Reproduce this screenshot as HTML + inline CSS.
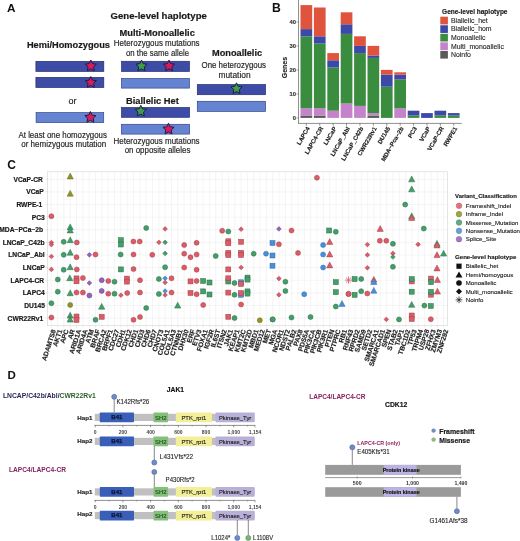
<!DOCTYPE html>
<html><head><meta charset="utf-8"><style>
html,body{margin:0;padding:0;background:#fff;}
svg{display:block;font-family:'Liberation Sans', Arial, sans-serif;}
</style></head><body>
<svg width="520" height="541" viewBox="0 0 520 541">
<rect width="520" height="541" fill="#fff"/>
<text x="7.1" y="11.9" font-size="11.8" font-weight="bold" text-anchor="start" fill="#111" >A</text>
<text x="110.6" y="18.75" font-size="9.5" font-weight="bold" text-anchor="start" fill="#1a1a1a" textLength="96.2" lengthAdjust="spacingAndGlyphs" stroke="#1a1a1a" stroke-width="0.2" >Gene-level haplotype</text>
<text x="26.9" y="47.5" font-size="9.9" font-weight="bold" text-anchor="start" fill="#1a1a1a" textLength="83.1" lengthAdjust="spacingAndGlyphs" stroke="#1a1a1a" stroke-width="0.2" >Hemi/Homozygous</text>
<text x="119.5" y="36.2" font-size="9.3" font-weight="bold" text-anchor="start" fill="#1a1a1a" textLength="75.3" lengthAdjust="spacingAndGlyphs" stroke="#1a1a1a" stroke-width="0.2" >Multi-Monoallelic</text>
<text x="113.8" y="45.5" font-size="9.0" text-anchor="start" fill="#262626" textLength="85.8" lengthAdjust="spacingAndGlyphs" stroke="#262626" stroke-width="0.18" >Heterozygous mutations</text>
<text x="125.9" y="55.5" font-size="9.0" text-anchor="start" fill="#262626" textLength="63.3" lengthAdjust="spacingAndGlyphs" stroke="#262626" stroke-width="0.18" >on the same allele</text>
<text x="212" y="56.3" font-size="9.3" font-weight="bold" text-anchor="start" fill="#1a1a1a" textLength="50.1" lengthAdjust="spacingAndGlyphs" stroke="#1a1a1a" stroke-width="0.2" >Monoallelic</text>
<text x="201.5" y="68.1" font-size="9.0" text-anchor="start" fill="#262626" textLength="64.5" lengthAdjust="spacingAndGlyphs" stroke="#262626" stroke-width="0.18" >One heterozygous</text>
<text x="218.4" y="77.5" font-size="9.0" text-anchor="start" fill="#262626" textLength="32.2" lengthAdjust="spacingAndGlyphs" stroke="#262626" stroke-width="0.18" >mutation</text>
<text x="68.5" y="103.7" font-size="9.0" text-anchor="start" fill="#262626" textLength="8" lengthAdjust="spacingAndGlyphs" stroke="#262626" stroke-width="0.18" >or</text>
<text x="18.5" y="137.7" font-size="9.0" text-anchor="start" fill="#262626" textLength="88.4" lengthAdjust="spacingAndGlyphs" stroke="#262626" stroke-width="0.18" >At least one homozygous</text>
<text x="21.2" y="146.5" font-size="9.0" text-anchor="start" fill="#262626" textLength="85.1" lengthAdjust="spacingAndGlyphs" stroke="#262626" stroke-width="0.18" >or hemizygous mutation</text>
<text x="125.9" y="103.8" font-size="9.3" font-weight="bold" text-anchor="start" fill="#1a1a1a" textLength="53" lengthAdjust="spacingAndGlyphs" stroke="#1a1a1a" stroke-width="0.2" >Biallelic Het</text>
<text x="113.5" y="143.9" font-size="9.0" text-anchor="start" fill="#262626" textLength="86.1" lengthAdjust="spacingAndGlyphs" stroke="#262626" stroke-width="0.18" >Heterozygous mutations</text>
<text x="124.7" y="153.4" font-size="9.0" text-anchor="start" fill="#262626" textLength="65.7" lengthAdjust="spacingAndGlyphs" stroke="#262626" stroke-width="0.18" >on opposite alleles</text>
<rect x="35.90" y="61.40" width="67.90" height="10.00" fill="#3d4ca6" stroke="#262d6e" stroke-width="0.7" />
<rect x="35.90" y="77.40" width="67.90" height="10.10" fill="#3d4ca6" stroke="#262d6e" stroke-width="0.7" />
<rect x="36.10" y="112.60" width="67.60" height="10.00" fill="#6484d2" stroke="#38428a" stroke-width="0.7" />
<rect x="121.60" y="61.30" width="67.80" height="10.10" fill="#3d4ca6" stroke="#262d6e" stroke-width="0.7" />
<rect x="121.50" y="78.50" width="67.90" height="9.60" fill="#6484d2" stroke="#38428a" stroke-width="0.7" />
<rect x="121.50" y="107.50" width="68.10" height="9.80" fill="#3d4ca6" stroke="#262d6e" stroke-width="0.7" />
<rect x="121.50" y="124.30" width="68.10" height="9.80" fill="#6484d2" stroke="#38428a" stroke-width="0.7" />
<rect x="197.30" y="84.50" width="68.20" height="10.20" fill="#3d4ca6" stroke="#262d6e" stroke-width="0.7" />
<rect x="197.30" y="101.30" width="68.20" height="10.10" fill="#6484d2" stroke="#38428a" stroke-width="0.7" />
<polygon points="90.80,60.10 92.50,63.65 96.41,64.18 93.56,66.90 94.27,70.77 90.80,68.90 87.33,70.77 88.04,66.90 85.19,64.18 89.10,63.65" fill="#d81b60" stroke="#1f1d45" stroke-width="1.0" stroke-linejoin="round"/>
<polygon points="90.80,76.60 92.50,80.15 96.41,80.68 93.56,83.40 94.27,87.27 90.80,85.40 87.33,87.27 88.04,83.40 85.19,80.68 89.10,80.15" fill="#d81b60" stroke="#1f1d45" stroke-width="1.0" stroke-linejoin="round"/>
<polygon points="90.40,111.50 92.10,115.05 96.01,115.58 93.16,118.30 93.87,122.17 90.40,120.30 86.93,122.17 87.64,118.30 84.79,115.58 88.70,115.05" fill="#d81b60" stroke="#1f1d45" stroke-width="1.0" stroke-linejoin="round"/>
<polygon points="141.50,60.10 143.20,63.65 147.11,64.18 144.26,66.90 144.97,70.77 141.50,68.90 138.03,70.77 138.74,66.90 135.89,64.18 139.80,63.65" fill="#3e9e48" stroke="#1f1d45" stroke-width="1.0" stroke-linejoin="round"/>
<polygon points="169.00,60.10 170.70,63.65 174.61,64.18 171.76,66.90 172.47,70.77 169.00,68.90 165.53,70.77 166.24,66.90 163.39,64.18 167.30,63.65" fill="#d81b60" stroke="#1f1d45" stroke-width="1.0" stroke-linejoin="round"/>
<polygon points="140.80,105.30 142.50,108.85 146.41,109.38 143.56,112.10 144.27,115.97 140.80,114.10 137.33,115.97 138.04,112.10 135.19,109.38 139.10,108.85" fill="#3e9e48" stroke="#1f1d45" stroke-width="1.0" stroke-linejoin="round"/>
<polygon points="168.50,123.20 170.20,126.75 174.11,127.28 171.26,130.00 171.97,133.87 168.50,132.00 165.03,133.87 165.74,130.00 162.89,127.28 166.80,126.75" fill="#d81b60" stroke="#1f1d45" stroke-width="1.0" stroke-linejoin="round"/>
<polygon points="236.50,82.80 238.20,86.35 242.11,86.88 239.26,89.60 239.97,93.47 236.50,91.60 233.03,93.47 233.74,89.60 230.89,86.88 234.80,86.35" fill="#3e9e48" stroke="#1f1d45" stroke-width="1.0" stroke-linejoin="round"/>
<text x="272.0" y="12.1" font-size="12.2" font-weight="bold" text-anchor="start" fill="#111" >B</text>
<line x1="298.50" y1="0.00" x2="298.50" y2="123.60" stroke="#444" stroke-width="0.6"/>
<line x1="298.20" y1="123.40" x2="461.80" y2="123.40" stroke="#444" stroke-width="0.6"/>
<line x1="296.40" y1="117.90" x2="298.70" y2="117.90" stroke="#555" stroke-width="0.5"/>
<text x="295.9" y="120.10000000000001" font-size="5.8" font-weight="bold" text-anchor="end" fill="#333" stroke="#333" stroke-width="0.15" >0</text>
<line x1="296.40" y1="93.90" x2="298.70" y2="93.90" stroke="#555" stroke-width="0.5"/>
<text x="295.9" y="96.10000000000001" font-size="5.8" font-weight="bold" text-anchor="end" fill="#333" stroke="#333" stroke-width="0.15" >10</text>
<line x1="296.40" y1="69.90" x2="298.70" y2="69.90" stroke="#555" stroke-width="0.5"/>
<text x="295.9" y="72.10000000000001" font-size="5.8" font-weight="bold" text-anchor="end" fill="#333" stroke="#333" stroke-width="0.15" >20</text>
<line x1="296.40" y1="45.90" x2="298.70" y2="45.90" stroke="#555" stroke-width="0.5"/>
<text x="295.9" y="48.10000000000001" font-size="5.8" font-weight="bold" text-anchor="end" fill="#333" stroke="#333" stroke-width="0.15" >30</text>
<line x1="296.40" y1="21.90" x2="298.70" y2="21.90" stroke="#555" stroke-width="0.5"/>
<text x="295.9" y="24.100000000000005" font-size="5.8" font-weight="bold" text-anchor="end" fill="#333" stroke="#333" stroke-width="0.15" >40</text>
<text transform="translate(287.2,67.6) rotate(-90)" font-size="7" font-weight="bold" text-anchor="middle" fill="#1a1a1a" stroke="#1a1a1a" stroke-width="0.12">Genes</text>
<rect x="300.50" y="115.50" width="11.70" height="2.40" fill="#5a5a5a" />
<rect x="300.50" y="108.30" width="11.70" height="7.20" fill="#c583cb" />
<rect x="300.50" y="36.30" width="11.70" height="72.00" fill="#3a8c3f" />
<rect x="300.50" y="29.10" width="11.70" height="7.20" fill="#3b49a8" />
<rect x="300.50" y="5.10" width="11.70" height="24.00" fill="#e0533c" />
<line x1="306.35" y1="123.40" x2="306.35" y2="125.80" stroke="#333" stroke-width="0.5"/>
<text transform="translate(309.95,128.3) rotate(-60)" font-size="6.05" font-weight="bold" text-anchor="end" fill="#1a1a1a" stroke="#1a1a1a" stroke-width="0.15">LAPC4</text>
<rect x="313.90" y="115.50" width="11.70" height="2.40" fill="#5a5a5a" />
<rect x="313.90" y="108.30" width="11.70" height="7.20" fill="#c583cb" />
<rect x="313.90" y="43.50" width="11.70" height="64.80" fill="#3a8c3f" />
<rect x="313.90" y="36.30" width="11.70" height="7.20" fill="#3b49a8" />
<rect x="313.90" y="7.50" width="11.70" height="28.80" fill="#e0533c" />
<line x1="319.75" y1="123.40" x2="319.75" y2="125.80" stroke="#333" stroke-width="0.5"/>
<text transform="translate(323.35,128.3) rotate(-60)" font-size="6.05" font-weight="bold" text-anchor="end" fill="#1a1a1a" stroke="#1a1a1a" stroke-width="0.15">LAPC4-CR</text>
<rect x="327.30" y="110.70" width="11.70" height="7.20" fill="#c583cb" />
<rect x="327.30" y="67.50" width="11.70" height="43.20" fill="#3a8c3f" />
<rect x="327.30" y="60.30" width="11.70" height="7.20" fill="#3b49a8" />
<rect x="327.30" y="53.10" width="11.70" height="7.20" fill="#e0533c" />
<line x1="333.15" y1="123.40" x2="333.15" y2="125.80" stroke="#333" stroke-width="0.5"/>
<text transform="translate(336.75,128.3) rotate(-60)" font-size="6.05" font-weight="bold" text-anchor="end" fill="#1a1a1a" stroke="#1a1a1a" stroke-width="0.15">LNCaP</text>
<rect x="340.70" y="103.50" width="11.70" height="14.40" fill="#c583cb" />
<rect x="340.70" y="33.90" width="11.70" height="69.60" fill="#3a8c3f" />
<rect x="340.70" y="24.30" width="11.70" height="9.60" fill="#3b49a8" />
<rect x="340.70" y="12.30" width="11.70" height="12.00" fill="#e0533c" />
<line x1="346.55" y1="123.40" x2="346.55" y2="125.80" stroke="#333" stroke-width="0.5"/>
<text transform="translate(350.15,128.3) rotate(-60)" font-size="6.05" font-weight="bold" text-anchor="end" fill="#1a1a1a" stroke="#1a1a1a" stroke-width="0.15">LNCaP_Abl</text>
<rect x="354.10" y="105.90" width="11.70" height="12.00" fill="#c583cb" />
<rect x="354.10" y="53.10" width="11.70" height="52.80" fill="#3a8c3f" />
<rect x="354.10" y="45.90" width="11.70" height="7.20" fill="#3b49a8" />
<rect x="354.10" y="36.30" width="11.70" height="9.60" fill="#e0533c" />
<line x1="359.95" y1="123.40" x2="359.95" y2="125.80" stroke="#333" stroke-width="0.5"/>
<text transform="translate(363.55,128.3) rotate(-60)" font-size="6.05" font-weight="bold" text-anchor="end" fill="#1a1a1a" stroke="#1a1a1a" stroke-width="0.15">LNCaP_C42b</text>
<rect x="367.50" y="115.50" width="11.70" height="2.40" fill="#5a5a5a" />
<rect x="367.50" y="113.10" width="11.70" height="2.40" fill="#c583cb" />
<rect x="367.50" y="57.90" width="11.70" height="55.20" fill="#3a8c3f" />
<rect x="367.50" y="55.50" width="11.70" height="2.40" fill="#3b49a8" />
<rect x="367.50" y="45.90" width="11.70" height="9.60" fill="#e0533c" />
<line x1="373.35" y1="123.40" x2="373.35" y2="125.80" stroke="#333" stroke-width="0.5"/>
<text transform="translate(376.95,128.3) rotate(-60)" font-size="6.05" font-weight="bold" text-anchor="end" fill="#1a1a1a" stroke="#1a1a1a" stroke-width="0.15">CWR22Rv1</text>
<rect x="380.90" y="86.70" width="11.70" height="31.20" fill="#3a8c3f" />
<rect x="380.90" y="74.70" width="11.70" height="12.00" fill="#3b49a8" />
<rect x="380.90" y="69.90" width="11.70" height="4.80" fill="#e0533c" />
<line x1="386.75" y1="123.40" x2="386.75" y2="125.80" stroke="#333" stroke-width="0.5"/>
<text transform="translate(390.35,128.3) rotate(-60)" font-size="6.05" font-weight="bold" text-anchor="end" fill="#1a1a1a" stroke="#1a1a1a" stroke-width="0.15">DU145</text>
<rect x="394.30" y="108.30" width="11.70" height="9.60" fill="#c583cb" />
<rect x="394.30" y="79.50" width="11.70" height="28.80" fill="#3a8c3f" />
<rect x="394.30" y="74.70" width="11.70" height="4.80" fill="#3b49a8" />
<rect x="394.30" y="72.30" width="11.70" height="2.40" fill="#e0533c" />
<line x1="400.15" y1="123.40" x2="400.15" y2="125.80" stroke="#333" stroke-width="0.5"/>
<text transform="translate(403.75,128.3) rotate(-60)" font-size="6.05" font-weight="bold" text-anchor="end" fill="#1a1a1a" stroke="#1a1a1a" stroke-width="0.15">MDA−Pca−2b</text>
<rect x="407.70" y="115.50" width="11.70" height="2.40" fill="#3a8c3f" />
<rect x="407.70" y="110.70" width="11.70" height="4.80" fill="#3b49a8" />
<line x1="413.55" y1="123.40" x2="413.55" y2="125.80" stroke="#333" stroke-width="0.5"/>
<text transform="translate(417.15,128.3) rotate(-60)" font-size="6.05" font-weight="bold" text-anchor="end" fill="#1a1a1a" stroke="#1a1a1a" stroke-width="0.15">PC3</text>
<rect x="421.10" y="113.10" width="11.70" height="4.80" fill="#3b49a8" />
<line x1="426.95" y1="123.40" x2="426.95" y2="125.80" stroke="#333" stroke-width="0.5"/>
<text transform="translate(430.55,128.3) rotate(-60)" font-size="6.05" font-weight="bold" text-anchor="end" fill="#1a1a1a" stroke="#1a1a1a" stroke-width="0.15">VCaP</text>
<rect x="434.50" y="115.50" width="11.70" height="2.40" fill="#3a8c3f" />
<rect x="434.50" y="110.70" width="11.70" height="4.80" fill="#3b49a8" />
<line x1="440.35" y1="123.40" x2="440.35" y2="125.80" stroke="#333" stroke-width="0.5"/>
<text transform="translate(443.95,128.3) rotate(-60)" font-size="6.05" font-weight="bold" text-anchor="end" fill="#1a1a1a" stroke="#1a1a1a" stroke-width="0.15">VCaP-CR</text>
<rect x="447.90" y="115.50" width="11.70" height="2.40" fill="#3a8c3f" />
<rect x="447.90" y="113.10" width="11.70" height="2.40" fill="#3b49a8" />
<line x1="453.75" y1="123.40" x2="453.75" y2="125.80" stroke="#333" stroke-width="0.5"/>
<text transform="translate(457.35,128.3) rotate(-60)" font-size="6.05" font-weight="bold" text-anchor="end" fill="#1a1a1a" stroke="#1a1a1a" stroke-width="0.15">RWPE1</text>
<text x="442.1" y="13.9" font-size="6.5" font-weight="bold" text-anchor="start" fill="#1a1a1a" stroke="#1a1a1a" stroke-width="0.15" >Gene-level haplotype</text>
<rect x="440.30" y="16.70" width="7.60" height="7.70" fill="#e0533c" />
<text x="451" y="22.9" font-size="6.9" text-anchor="start" fill="#1a1a1a" stroke="#1a1a1a" stroke-width="0.1" >Biallelic_het</text>
<rect x="440.30" y="25.25" width="7.60" height="7.70" fill="#3b49a8" />
<text x="451" y="31.45" font-size="6.9" text-anchor="start" fill="#1a1a1a" stroke="#1a1a1a" stroke-width="0.1" >Biallelic_hom</text>
<rect x="440.30" y="33.80" width="7.60" height="7.70" fill="#3a8c3f" />
<text x="451" y="40.0" font-size="6.9" text-anchor="start" fill="#1a1a1a" stroke="#1a1a1a" stroke-width="0.1" >Monoallelic</text>
<rect x="440.30" y="42.35" width="7.60" height="7.70" fill="#c583cb" />
<text x="451" y="48.550000000000004" font-size="6.9" text-anchor="start" fill="#1a1a1a" stroke="#1a1a1a" stroke-width="0.1" >Multi_monoallelic</text>
<rect x="440.30" y="50.90" width="7.60" height="7.70" fill="#5a5a5a" />
<text x="451" y="57.10000000000001" font-size="6.9" text-anchor="start" fill="#1a1a1a" stroke="#1a1a1a" stroke-width="0.1" >Noinfo</text>
<text x="7.2" y="168.6" font-size="12" font-weight="bold" text-anchor="start" fill="#111" >C</text>
<rect x="47.50" y="171.80" width="400.10" height="153.90" fill="#ffffff" stroke="#d4d4d4" stroke-width="0.6" />
<line x1="51.20" y1="171.80" x2="51.20" y2="325.70" stroke="#ebebeb" stroke-width="0.5"/>
<line x1="57.53" y1="171.80" x2="57.53" y2="325.70" stroke="#ebebeb" stroke-width="0.5"/>
<line x1="63.86" y1="171.80" x2="63.86" y2="325.70" stroke="#ebebeb" stroke-width="0.5"/>
<line x1="70.19" y1="171.80" x2="70.19" y2="325.70" stroke="#ebebeb" stroke-width="0.5"/>
<line x1="76.52" y1="171.80" x2="76.52" y2="325.70" stroke="#ebebeb" stroke-width="0.5"/>
<line x1="82.85" y1="171.80" x2="82.85" y2="325.70" stroke="#ebebeb" stroke-width="0.5"/>
<line x1="89.18" y1="171.80" x2="89.18" y2="325.70" stroke="#ebebeb" stroke-width="0.5"/>
<line x1="95.51" y1="171.80" x2="95.51" y2="325.70" stroke="#ebebeb" stroke-width="0.5"/>
<line x1="101.84" y1="171.80" x2="101.84" y2="325.70" stroke="#ebebeb" stroke-width="0.5"/>
<line x1="108.17" y1="171.80" x2="108.17" y2="325.70" stroke="#ebebeb" stroke-width="0.5"/>
<line x1="114.50" y1="171.80" x2="114.50" y2="325.70" stroke="#ebebeb" stroke-width="0.5"/>
<line x1="120.83" y1="171.80" x2="120.83" y2="325.70" stroke="#ebebeb" stroke-width="0.5"/>
<line x1="127.16" y1="171.80" x2="127.16" y2="325.70" stroke="#ebebeb" stroke-width="0.5"/>
<line x1="133.49" y1="171.80" x2="133.49" y2="325.70" stroke="#ebebeb" stroke-width="0.5"/>
<line x1="139.82" y1="171.80" x2="139.82" y2="325.70" stroke="#ebebeb" stroke-width="0.5"/>
<line x1="146.15" y1="171.80" x2="146.15" y2="325.70" stroke="#ebebeb" stroke-width="0.5"/>
<line x1="152.48" y1="171.80" x2="152.48" y2="325.70" stroke="#ebebeb" stroke-width="0.5"/>
<line x1="158.81" y1="171.80" x2="158.81" y2="325.70" stroke="#ebebeb" stroke-width="0.5"/>
<line x1="165.14" y1="171.80" x2="165.14" y2="325.70" stroke="#ebebeb" stroke-width="0.5"/>
<line x1="171.47" y1="171.80" x2="171.47" y2="325.70" stroke="#ebebeb" stroke-width="0.5"/>
<line x1="177.80" y1="171.80" x2="177.80" y2="325.70" stroke="#ebebeb" stroke-width="0.5"/>
<line x1="184.13" y1="171.80" x2="184.13" y2="325.70" stroke="#ebebeb" stroke-width="0.5"/>
<line x1="190.46" y1="171.80" x2="190.46" y2="325.70" stroke="#ebebeb" stroke-width="0.5"/>
<line x1="196.79" y1="171.80" x2="196.79" y2="325.70" stroke="#ebebeb" stroke-width="0.5"/>
<line x1="203.12" y1="171.80" x2="203.12" y2="325.70" stroke="#ebebeb" stroke-width="0.5"/>
<line x1="209.45" y1="171.80" x2="209.45" y2="325.70" stroke="#ebebeb" stroke-width="0.5"/>
<line x1="215.78" y1="171.80" x2="215.78" y2="325.70" stroke="#ebebeb" stroke-width="0.5"/>
<line x1="222.11" y1="171.80" x2="222.11" y2="325.70" stroke="#ebebeb" stroke-width="0.5"/>
<line x1="228.44" y1="171.80" x2="228.44" y2="325.70" stroke="#ebebeb" stroke-width="0.5"/>
<line x1="234.77" y1="171.80" x2="234.77" y2="325.70" stroke="#ebebeb" stroke-width="0.5"/>
<line x1="241.10" y1="171.80" x2="241.10" y2="325.70" stroke="#ebebeb" stroke-width="0.5"/>
<line x1="247.43" y1="171.80" x2="247.43" y2="325.70" stroke="#ebebeb" stroke-width="0.5"/>
<line x1="253.76" y1="171.80" x2="253.76" y2="325.70" stroke="#ebebeb" stroke-width="0.5"/>
<line x1="260.09" y1="171.80" x2="260.09" y2="325.70" stroke="#ebebeb" stroke-width="0.5"/>
<line x1="266.42" y1="171.80" x2="266.42" y2="325.70" stroke="#ebebeb" stroke-width="0.5"/>
<line x1="272.75" y1="171.80" x2="272.75" y2="325.70" stroke="#ebebeb" stroke-width="0.5"/>
<line x1="279.08" y1="171.80" x2="279.08" y2="325.70" stroke="#ebebeb" stroke-width="0.5"/>
<line x1="285.41" y1="171.80" x2="285.41" y2="325.70" stroke="#ebebeb" stroke-width="0.5"/>
<line x1="291.74" y1="171.80" x2="291.74" y2="325.70" stroke="#ebebeb" stroke-width="0.5"/>
<line x1="298.07" y1="171.80" x2="298.07" y2="325.70" stroke="#ebebeb" stroke-width="0.5"/>
<line x1="304.40" y1="171.80" x2="304.40" y2="325.70" stroke="#ebebeb" stroke-width="0.5"/>
<line x1="310.73" y1="171.80" x2="310.73" y2="325.70" stroke="#ebebeb" stroke-width="0.5"/>
<line x1="317.06" y1="171.80" x2="317.06" y2="325.70" stroke="#ebebeb" stroke-width="0.5"/>
<line x1="323.39" y1="171.80" x2="323.39" y2="325.70" stroke="#ebebeb" stroke-width="0.5"/>
<line x1="329.72" y1="171.80" x2="329.72" y2="325.70" stroke="#ebebeb" stroke-width="0.5"/>
<line x1="336.05" y1="171.80" x2="336.05" y2="325.70" stroke="#ebebeb" stroke-width="0.5"/>
<line x1="342.38" y1="171.80" x2="342.38" y2="325.70" stroke="#ebebeb" stroke-width="0.5"/>
<line x1="348.71" y1="171.80" x2="348.71" y2="325.70" stroke="#ebebeb" stroke-width="0.5"/>
<line x1="355.04" y1="171.80" x2="355.04" y2="325.70" stroke="#ebebeb" stroke-width="0.5"/>
<line x1="361.37" y1="171.80" x2="361.37" y2="325.70" stroke="#ebebeb" stroke-width="0.5"/>
<line x1="367.70" y1="171.80" x2="367.70" y2="325.70" stroke="#ebebeb" stroke-width="0.5"/>
<line x1="374.03" y1="171.80" x2="374.03" y2="325.70" stroke="#ebebeb" stroke-width="0.5"/>
<line x1="380.36" y1="171.80" x2="380.36" y2="325.70" stroke="#ebebeb" stroke-width="0.5"/>
<line x1="386.69" y1="171.80" x2="386.69" y2="325.70" stroke="#ebebeb" stroke-width="0.5"/>
<line x1="393.02" y1="171.80" x2="393.02" y2="325.70" stroke="#ebebeb" stroke-width="0.5"/>
<line x1="399.35" y1="171.80" x2="399.35" y2="325.70" stroke="#ebebeb" stroke-width="0.5"/>
<line x1="405.68" y1="171.80" x2="405.68" y2="325.70" stroke="#ebebeb" stroke-width="0.5"/>
<line x1="412.01" y1="171.80" x2="412.01" y2="325.70" stroke="#ebebeb" stroke-width="0.5"/>
<line x1="418.34" y1="171.80" x2="418.34" y2="325.70" stroke="#ebebeb" stroke-width="0.5"/>
<line x1="424.67" y1="171.80" x2="424.67" y2="325.70" stroke="#ebebeb" stroke-width="0.5"/>
<line x1="431.00" y1="171.80" x2="431.00" y2="325.70" stroke="#ebebeb" stroke-width="0.5"/>
<line x1="437.33" y1="171.80" x2="437.33" y2="325.70" stroke="#ebebeb" stroke-width="0.5"/>
<line x1="443.66" y1="171.80" x2="443.66" y2="325.70" stroke="#ebebeb" stroke-width="0.5"/>
<line x1="47.50" y1="179.30" x2="447.60" y2="179.30" stroke="#ebebeb" stroke-width="0.5"/>
<line x1="47.50" y1="191.92" x2="447.60" y2="191.92" stroke="#ebebeb" stroke-width="0.5"/>
<line x1="47.50" y1="204.54" x2="447.60" y2="204.54" stroke="#ebebeb" stroke-width="0.5"/>
<line x1="47.50" y1="217.16" x2="447.60" y2="217.16" stroke="#ebebeb" stroke-width="0.5"/>
<line x1="47.50" y1="229.78" x2="447.60" y2="229.78" stroke="#ebebeb" stroke-width="0.5"/>
<line x1="47.50" y1="242.40" x2="447.60" y2="242.40" stroke="#ebebeb" stroke-width="0.5"/>
<line x1="47.50" y1="255.02" x2="447.60" y2="255.02" stroke="#ebebeb" stroke-width="0.5"/>
<line x1="47.50" y1="267.64" x2="447.60" y2="267.64" stroke="#ebebeb" stroke-width="0.5"/>
<line x1="47.50" y1="280.26" x2="447.60" y2="280.26" stroke="#ebebeb" stroke-width="0.5"/>
<line x1="47.50" y1="292.88" x2="447.60" y2="292.88" stroke="#ebebeb" stroke-width="0.5"/>
<line x1="47.50" y1="305.50" x2="447.60" y2="305.50" stroke="#ebebeb" stroke-width="0.5"/>
<line x1="47.50" y1="318.12" x2="447.60" y2="318.12" stroke="#ebebeb" stroke-width="0.5"/>
<line x1="45.60" y1="179.30" x2="47.50" y2="179.30" stroke="#bbb" stroke-width="0.4"/>
<text x="42.8" y="181.70000000000002" font-size="6.7" font-weight="bold" text-anchor="end" fill="#1a1a1a" stroke="#1a1a1a" stroke-width="0.2" >VCaP-CR</text>
<line x1="45.60" y1="191.92" x2="47.50" y2="191.92" stroke="#bbb" stroke-width="0.4"/>
<text x="43.75" y="194.32000000000002" font-size="6.7" font-weight="bold" text-anchor="end" fill="#1a1a1a" stroke="#1a1a1a" stroke-width="0.2" >VCaP</text>
<line x1="45.60" y1="204.54" x2="47.50" y2="204.54" stroke="#bbb" stroke-width="0.4"/>
<text x="42.3" y="206.94000000000003" font-size="6.7" font-weight="bold" text-anchor="end" fill="#1a1a1a" stroke="#1a1a1a" stroke-width="0.2" >RWPE-1</text>
<line x1="45.60" y1="217.16" x2="47.50" y2="217.16" stroke="#bbb" stroke-width="0.4"/>
<text x="44.7" y="219.56000000000003" font-size="6.7" font-weight="bold" text-anchor="end" fill="#1a1a1a" stroke="#1a1a1a" stroke-width="0.2" >PC3</text>
<line x1="45.60" y1="229.78" x2="47.50" y2="229.78" stroke="#bbb" stroke-width="0.4"/>
<text x="43.1" y="232.18" font-size="6.7" font-weight="bold" text-anchor="end" fill="#1a1a1a" stroke="#1a1a1a" stroke-width="0.2" >MDA−PCa−2b</text>
<line x1="45.60" y1="242.40" x2="47.50" y2="242.40" stroke="#bbb" stroke-width="0.4"/>
<text x="44.7" y="244.8" font-size="6.7" font-weight="bold" text-anchor="end" fill="#1a1a1a" stroke="#1a1a1a" stroke-width="0.2" >LNCaP_C42b</text>
<line x1="45.60" y1="255.02" x2="47.50" y2="255.02" stroke="#bbb" stroke-width="0.4"/>
<text x="44.7" y="257.42" font-size="6.7" font-weight="bold" text-anchor="end" fill="#1a1a1a" stroke="#1a1a1a" stroke-width="0.2" >LNCaP_Abl</text>
<line x1="45.60" y1="267.64" x2="47.50" y2="267.64" stroke="#bbb" stroke-width="0.4"/>
<text x="44.7" y="270.03999999999996" font-size="6.7" font-weight="bold" text-anchor="end" fill="#1a1a1a" stroke="#1a1a1a" stroke-width="0.2" >LNCaP</text>
<line x1="45.60" y1="280.26" x2="47.50" y2="280.26" stroke="#bbb" stroke-width="0.4"/>
<text x="44.2" y="282.65999999999997" font-size="6.7" font-weight="bold" text-anchor="end" fill="#1a1a1a" stroke="#1a1a1a" stroke-width="0.2" >LAPC4-CR</text>
<line x1="45.60" y1="292.88" x2="47.50" y2="292.88" stroke="#bbb" stroke-width="0.4"/>
<text x="44.7" y="295.28" font-size="6.7" font-weight="bold" text-anchor="end" fill="#1a1a1a" stroke="#1a1a1a" stroke-width="0.2" >LAPC4</text>
<line x1="45.60" y1="305.50" x2="47.50" y2="305.50" stroke="#bbb" stroke-width="0.4"/>
<text x="45.0" y="307.9" font-size="6.7" font-weight="bold" text-anchor="end" fill="#1a1a1a" stroke="#1a1a1a" stroke-width="0.2" >DU145</text>
<line x1="45.60" y1="318.12" x2="47.50" y2="318.12" stroke="#bbb" stroke-width="0.4"/>
<text x="43.3" y="320.52" font-size="6.7" font-weight="bold" text-anchor="end" fill="#1a1a1a" stroke="#1a1a1a" stroke-width="0.2" >CWR22Rv1</text>
<line x1="51.20" y1="325.70" x2="51.20" y2="327.50" stroke="#ccc" stroke-width="0.4"/>
<text transform="translate(56.00,330.3) rotate(-72)" font-size="6.75" font-weight="bold" text-anchor="end" fill="#1a1a1a" stroke="#1a1a1a" stroke-width="0.15">ADAMTS8</text>
<line x1="57.53" y1="325.70" x2="57.53" y2="327.50" stroke="#ccc" stroke-width="0.4"/>
<text transform="translate(62.33,330.3) rotate(-72)" font-size="6.75" font-weight="bold" text-anchor="end" fill="#1a1a1a" stroke="#1a1a1a" stroke-width="0.15">AKT1</text>
<line x1="63.86" y1="325.70" x2="63.86" y2="327.50" stroke="#ccc" stroke-width="0.4"/>
<text transform="translate(68.66,330.3) rotate(-72)" font-size="6.75" font-weight="bold" text-anchor="end" fill="#1a1a1a" stroke="#1a1a1a" stroke-width="0.15">APC</text>
<line x1="70.19" y1="325.70" x2="70.19" y2="327.50" stroke="#ccc" stroke-width="0.4"/>
<text transform="translate(74.99,330.3) rotate(-72)" font-size="6.75" font-weight="bold" text-anchor="end" fill="#1a1a1a" stroke="#1a1a1a" stroke-width="0.15">AR</text>
<line x1="76.52" y1="325.70" x2="76.52" y2="327.50" stroke="#ccc" stroke-width="0.4"/>
<text transform="translate(81.32,330.3) rotate(-72)" font-size="6.75" font-weight="bold" text-anchor="end" fill="#1a1a1a" stroke="#1a1a1a" stroke-width="0.15">ARID1A</text>
<line x1="82.85" y1="325.70" x2="82.85" y2="327.50" stroke="#ccc" stroke-width="0.4"/>
<text transform="translate(87.65,330.3) rotate(-72)" font-size="6.75" font-weight="bold" text-anchor="end" fill="#1a1a1a" stroke="#1a1a1a" stroke-width="0.15">ARID4A</text>
<line x1="89.18" y1="325.70" x2="89.18" y2="327.50" stroke="#ccc" stroke-width="0.4"/>
<text transform="translate(93.98,330.3) rotate(-72)" font-size="6.75" font-weight="bold" text-anchor="end" fill="#1a1a1a" stroke="#1a1a1a" stroke-width="0.15">ATM</text>
<line x1="95.51" y1="325.70" x2="95.51" y2="327.50" stroke="#ccc" stroke-width="0.4"/>
<text transform="translate(100.31,330.3) rotate(-72)" font-size="6.75" font-weight="bold" text-anchor="end" fill="#1a1a1a" stroke="#1a1a1a" stroke-width="0.15">BRAF</text>
<line x1="101.84" y1="325.70" x2="101.84" y2="327.50" stroke="#ccc" stroke-width="0.4"/>
<text transform="translate(106.64,330.3) rotate(-72)" font-size="6.75" font-weight="bold" text-anchor="end" fill="#1a1a1a" stroke="#1a1a1a" stroke-width="0.15">BRCA2</text>
<line x1="108.17" y1="325.70" x2="108.17" y2="327.50" stroke="#ccc" stroke-width="0.4"/>
<text transform="translate(112.97,330.3) rotate(-72)" font-size="6.75" font-weight="bold" text-anchor="end" fill="#1a1a1a" stroke="#1a1a1a" stroke-width="0.15">BRPF1</text>
<line x1="114.50" y1="325.70" x2="114.50" y2="327.50" stroke="#ccc" stroke-width="0.4"/>
<text transform="translate(119.30,330.3) rotate(-72)" font-size="6.75" font-weight="bold" text-anchor="end" fill="#1a1a1a" stroke="#1a1a1a" stroke-width="0.15">CDC27</text>
<line x1="120.83" y1="325.70" x2="120.83" y2="327.50" stroke="#ccc" stroke-width="0.4"/>
<text transform="translate(125.63,330.3) rotate(-72)" font-size="6.75" font-weight="bold" text-anchor="end" fill="#1a1a1a" stroke="#1a1a1a" stroke-width="0.15">CDH1</text>
<line x1="127.16" y1="325.70" x2="127.16" y2="327.50" stroke="#ccc" stroke-width="0.4"/>
<text transform="translate(131.96,330.3) rotate(-72)" font-size="6.75" font-weight="bold" text-anchor="end" fill="#1a1a1a" stroke="#1a1a1a" stroke-width="0.15">CDK12</text>
<line x1="133.49" y1="325.70" x2="133.49" y2="327.50" stroke="#ccc" stroke-width="0.4"/>
<text transform="translate(138.29,330.3) rotate(-72)" font-size="6.75" font-weight="bold" text-anchor="end" fill="#1a1a1a" stroke="#1a1a1a" stroke-width="0.15">CHD1</text>
<line x1="139.82" y1="325.70" x2="139.82" y2="327.50" stroke="#ccc" stroke-width="0.4"/>
<text transform="translate(144.62,330.3) rotate(-72)" font-size="6.75" font-weight="bold" text-anchor="end" fill="#1a1a1a" stroke="#1a1a1a" stroke-width="0.15">CHD3</text>
<line x1="146.15" y1="325.70" x2="146.15" y2="327.50" stroke="#ccc" stroke-width="0.4"/>
<text transform="translate(150.95,330.3) rotate(-72)" font-size="6.75" font-weight="bold" text-anchor="end" fill="#1a1a1a" stroke="#1a1a1a" stroke-width="0.15">CHD6</text>
<line x1="152.48" y1="325.70" x2="152.48" y2="327.50" stroke="#ccc" stroke-width="0.4"/>
<text transform="translate(157.28,330.3) rotate(-72)" font-size="6.75" font-weight="bold" text-anchor="end" fill="#1a1a1a" stroke="#1a1a1a" stroke-width="0.15">CHD7</text>
<line x1="158.81" y1="325.70" x2="158.81" y2="327.50" stroke="#ccc" stroke-width="0.4"/>
<text transform="translate(163.61,330.3) rotate(-72)" font-size="6.75" font-weight="bold" text-anchor="end" fill="#1a1a1a" stroke="#1a1a1a" stroke-width="0.15">CNOT3</text>
<line x1="165.14" y1="325.70" x2="165.14" y2="327.50" stroke="#ccc" stroke-width="0.4"/>
<text transform="translate(169.94,330.3) rotate(-72)" font-size="6.75" font-weight="bold" text-anchor="end" fill="#1a1a1a" stroke="#1a1a1a" stroke-width="0.15">COL5A1</text>
<line x1="171.47" y1="325.70" x2="171.47" y2="327.50" stroke="#ccc" stroke-width="0.4"/>
<text transform="translate(176.27,330.3) rotate(-72)" font-size="6.75" font-weight="bold" text-anchor="end" fill="#1a1a1a" stroke="#1a1a1a" stroke-width="0.15">COL5A3</text>
<line x1="177.80" y1="325.70" x2="177.80" y2="327.50" stroke="#ccc" stroke-width="0.4"/>
<text transform="translate(182.60,330.3) rotate(-72)" font-size="6.75" font-weight="bold" text-anchor="end" fill="#1a1a1a" stroke="#1a1a1a" stroke-width="0.15">CTNNB1</text>
<line x1="184.13" y1="325.70" x2="184.13" y2="327.50" stroke="#ccc" stroke-width="0.4"/>
<text transform="translate(188.93,330.3) rotate(-72)" font-size="6.75" font-weight="bold" text-anchor="end" fill="#1a1a1a" stroke="#1a1a1a" stroke-width="0.15">DHX30</text>
<line x1="190.46" y1="325.70" x2="190.46" y2="327.50" stroke="#ccc" stroke-width="0.4"/>
<text transform="translate(195.26,330.3) rotate(-72)" font-size="6.75" font-weight="bold" text-anchor="end" fill="#1a1a1a" stroke="#1a1a1a" stroke-width="0.15">ERF</text>
<line x1="196.79" y1="325.70" x2="196.79" y2="327.50" stroke="#ccc" stroke-width="0.4"/>
<text transform="translate(201.59,330.3) rotate(-72)" font-size="6.75" font-weight="bold" text-anchor="end" fill="#1a1a1a" stroke="#1a1a1a" stroke-width="0.15">ETV3</text>
<line x1="203.12" y1="325.70" x2="203.12" y2="327.50" stroke="#ccc" stroke-width="0.4"/>
<text transform="translate(207.92,330.3) rotate(-72)" font-size="6.75" font-weight="bold" text-anchor="end" fill="#1a1a1a" stroke="#1a1a1a" stroke-width="0.15">FOXA1</text>
<line x1="209.45" y1="325.70" x2="209.45" y2="327.50" stroke="#ccc" stroke-width="0.4"/>
<text transform="translate(214.25,330.3) rotate(-72)" font-size="6.75" font-weight="bold" text-anchor="end" fill="#1a1a1a" stroke="#1a1a1a" stroke-width="0.15">IGF2R</text>
<line x1="215.78" y1="325.70" x2="215.78" y2="327.50" stroke="#ccc" stroke-width="0.4"/>
<text transform="translate(220.58,330.3) rotate(-72)" font-size="6.75" font-weight="bold" text-anchor="end" fill="#1a1a1a" stroke="#1a1a1a" stroke-width="0.15">IL6ST</text>
<line x1="222.11" y1="325.70" x2="222.11" y2="327.50" stroke="#ccc" stroke-width="0.4"/>
<text transform="translate(226.91,330.3) rotate(-72)" font-size="6.75" font-weight="bold" text-anchor="end" fill="#1a1a1a" stroke="#1a1a1a" stroke-width="0.15">ITSN2</text>
<line x1="228.44" y1="325.70" x2="228.44" y2="327.50" stroke="#ccc" stroke-width="0.4"/>
<text transform="translate(233.24,330.3) rotate(-72)" font-size="6.75" font-weight="bold" text-anchor="end" fill="#1a1a1a" stroke="#1a1a1a" stroke-width="0.15">JAK1</text>
<line x1="234.77" y1="325.70" x2="234.77" y2="327.50" stroke="#ccc" stroke-width="0.4"/>
<text transform="translate(239.57,330.3) rotate(-72)" font-size="6.75" font-weight="bold" text-anchor="end" fill="#1a1a1a" stroke="#1a1a1a" stroke-width="0.15">KEAP1</text>
<line x1="241.10" y1="325.70" x2="241.10" y2="327.50" stroke="#ccc" stroke-width="0.4"/>
<text transform="translate(245.90,330.3) rotate(-72)" font-size="6.75" font-weight="bold" text-anchor="end" fill="#1a1a1a" stroke="#1a1a1a" stroke-width="0.15">KMT2C</text>
<line x1="247.43" y1="325.70" x2="247.43" y2="327.50" stroke="#ccc" stroke-width="0.4"/>
<text transform="translate(252.23,330.3) rotate(-72)" font-size="6.75" font-weight="bold" text-anchor="end" fill="#1a1a1a" stroke="#1a1a1a" stroke-width="0.15">KMT2D</text>
<line x1="253.76" y1="325.70" x2="253.76" y2="327.50" stroke="#ccc" stroke-width="0.4"/>
<text transform="translate(258.56,330.3) rotate(-72)" font-size="6.75" font-weight="bold" text-anchor="end" fill="#1a1a1a" stroke="#1a1a1a" stroke-width="0.15">MBD1</text>
<line x1="260.09" y1="325.70" x2="260.09" y2="327.50" stroke="#ccc" stroke-width="0.4"/>
<text transform="translate(264.89,330.3) rotate(-72)" font-size="6.75" font-weight="bold" text-anchor="end" fill="#1a1a1a" stroke="#1a1a1a" stroke-width="0.15">MED12</text>
<line x1="266.42" y1="325.70" x2="266.42" y2="327.50" stroke="#ccc" stroke-width="0.4"/>
<text transform="translate(271.22,330.3) rotate(-72)" font-size="6.75" font-weight="bold" text-anchor="end" fill="#1a1a1a" stroke="#1a1a1a" stroke-width="0.15">MET</text>
<line x1="272.75" y1="325.70" x2="272.75" y2="327.50" stroke="#ccc" stroke-width="0.4"/>
<text transform="translate(277.55,330.3) rotate(-72)" font-size="6.75" font-weight="bold" text-anchor="end" fill="#1a1a1a" stroke="#1a1a1a" stroke-width="0.15">MGA</text>
<line x1="279.08" y1="325.70" x2="279.08" y2="327.50" stroke="#ccc" stroke-width="0.4"/>
<text transform="translate(283.88,330.3) rotate(-72)" font-size="6.75" font-weight="bold" text-anchor="end" fill="#1a1a1a" stroke="#1a1a1a" stroke-width="0.15">NCOR1</text>
<line x1="285.41" y1="325.70" x2="285.41" y2="327.50" stroke="#ccc" stroke-width="0.4"/>
<text transform="translate(290.21,330.3) rotate(-72)" font-size="6.75" font-weight="bold" text-anchor="end" fill="#1a1a1a" stroke="#1a1a1a" stroke-width="0.15">NDST2</text>
<line x1="291.74" y1="325.70" x2="291.74" y2="327.50" stroke="#ccc" stroke-width="0.4"/>
<text transform="translate(296.54,330.3) rotate(-72)" font-size="6.75" font-weight="bold" text-anchor="end" fill="#1a1a1a" stroke="#1a1a1a" stroke-width="0.15">PALB2</text>
<line x1="298.07" y1="325.70" x2="298.07" y2="327.50" stroke="#ccc" stroke-width="0.4"/>
<text transform="translate(302.87,330.3) rotate(-72)" font-size="6.75" font-weight="bold" text-anchor="end" fill="#1a1a1a" stroke="#1a1a1a" stroke-width="0.15">PAX8</text>
<line x1="304.40" y1="325.70" x2="304.40" y2="327.50" stroke="#ccc" stroke-width="0.4"/>
<text transform="translate(309.20,330.3) rotate(-72)" font-size="6.75" font-weight="bold" text-anchor="end" fill="#1a1a1a" stroke="#1a1a1a" stroke-width="0.15">PDS5A</text>
<line x1="310.73" y1="325.70" x2="310.73" y2="327.50" stroke="#ccc" stroke-width="0.4"/>
<text transform="translate(315.53,330.3) rotate(-72)" font-size="6.75" font-weight="bold" text-anchor="end" fill="#1a1a1a" stroke="#1a1a1a" stroke-width="0.15">PIK3CA</text>
<line x1="317.06" y1="325.70" x2="317.06" y2="327.50" stroke="#ccc" stroke-width="0.4"/>
<text transform="translate(321.86,330.3) rotate(-72)" font-size="6.75" font-weight="bold" text-anchor="end" fill="#1a1a1a" stroke="#1a1a1a" stroke-width="0.15">PIK3CB</text>
<line x1="323.39" y1="325.70" x2="323.39" y2="327.50" stroke="#ccc" stroke-width="0.4"/>
<text transform="translate(328.19,330.3) rotate(-72)" font-size="6.75" font-weight="bold" text-anchor="end" fill="#1a1a1a" stroke="#1a1a1a" stroke-width="0.15">PIK3R1</text>
<line x1="329.72" y1="325.70" x2="329.72" y2="327.50" stroke="#ccc" stroke-width="0.4"/>
<text transform="translate(334.52,330.3) rotate(-72)" font-size="6.75" font-weight="bold" text-anchor="end" fill="#1a1a1a" stroke="#1a1a1a" stroke-width="0.15">PTEN</text>
<line x1="336.05" y1="325.70" x2="336.05" y2="327.50" stroke="#ccc" stroke-width="0.4"/>
<text transform="translate(340.85,330.3) rotate(-72)" font-size="6.75" font-weight="bold" text-anchor="end" fill="#1a1a1a" stroke="#1a1a1a" stroke-width="0.15">PTPRC</text>
<line x1="342.38" y1="325.70" x2="342.38" y2="327.50" stroke="#ccc" stroke-width="0.4"/>
<text transform="translate(347.18,330.3) rotate(-72)" font-size="6.75" font-weight="bold" text-anchor="end" fill="#1a1a1a" stroke="#1a1a1a" stroke-width="0.15">RB1</text>
<line x1="348.71" y1="325.70" x2="348.71" y2="327.50" stroke="#ccc" stroke-width="0.4"/>
<text transform="translate(353.51,330.3) rotate(-72)" font-size="6.75" font-weight="bold" text-anchor="end" fill="#1a1a1a" stroke="#1a1a1a" stroke-width="0.15">RNF43</text>
<line x1="355.04" y1="325.70" x2="355.04" y2="327.50" stroke="#ccc" stroke-width="0.4"/>
<text transform="translate(359.84,330.3) rotate(-72)" font-size="6.75" font-weight="bold" text-anchor="end" fill="#1a1a1a" stroke="#1a1a1a" stroke-width="0.15">RPRD2</text>
<line x1="361.37" y1="325.70" x2="361.37" y2="327.50" stroke="#ccc" stroke-width="0.4"/>
<text transform="translate(366.17,330.3) rotate(-72)" font-size="6.75" font-weight="bold" text-anchor="end" fill="#1a1a1a" stroke="#1a1a1a" stroke-width="0.15">SAMD9</text>
<line x1="367.70" y1="325.70" x2="367.70" y2="327.50" stroke="#ccc" stroke-width="0.4"/>
<text transform="translate(372.50,330.3) rotate(-72)" font-size="6.75" font-weight="bold" text-anchor="end" fill="#1a1a1a" stroke="#1a1a1a" stroke-width="0.15">SETD2</text>
<line x1="374.03" y1="325.70" x2="374.03" y2="327.50" stroke="#ccc" stroke-width="0.4"/>
<text transform="translate(378.83,330.3) rotate(-72)" font-size="6.75" font-weight="bold" text-anchor="end" fill="#1a1a1a" stroke="#1a1a1a" stroke-width="0.15">SMARCA1</text>
<line x1="380.36" y1="325.70" x2="380.36" y2="327.50" stroke="#ccc" stroke-width="0.4"/>
<text transform="translate(385.16,330.3) rotate(-72)" font-size="6.75" font-weight="bold" text-anchor="end" fill="#1a1a1a" stroke="#1a1a1a" stroke-width="0.15">SMARCAD1</text>
<line x1="386.69" y1="325.70" x2="386.69" y2="327.50" stroke="#ccc" stroke-width="0.4"/>
<text transform="translate(391.49,330.3) rotate(-72)" font-size="6.75" font-weight="bold" text-anchor="end" fill="#1a1a1a" stroke="#1a1a1a" stroke-width="0.15">SPEN</text>
<line x1="393.02" y1="325.70" x2="393.02" y2="327.50" stroke="#ccc" stroke-width="0.4"/>
<text transform="translate(397.82,330.3) rotate(-72)" font-size="6.75" font-weight="bold" text-anchor="end" fill="#1a1a1a" stroke="#1a1a1a" stroke-width="0.15">STAB2</text>
<line x1="399.35" y1="325.70" x2="399.35" y2="327.50" stroke="#ccc" stroke-width="0.4"/>
<text transform="translate(404.15,330.3) rotate(-72)" font-size="6.75" font-weight="bold" text-anchor="end" fill="#1a1a1a" stroke="#1a1a1a" stroke-width="0.15">TAP1</text>
<line x1="405.68" y1="325.70" x2="405.68" y2="327.50" stroke="#ccc" stroke-width="0.4"/>
<text transform="translate(410.48,330.3) rotate(-72)" font-size="6.75" font-weight="bold" text-anchor="end" fill="#1a1a1a" stroke="#1a1a1a" stroke-width="0.15">TBC1D2</text>
<line x1="412.01" y1="325.70" x2="412.01" y2="327.50" stroke="#ccc" stroke-width="0.4"/>
<text transform="translate(416.81,330.3) rotate(-72)" font-size="6.75" font-weight="bold" text-anchor="end" fill="#1a1a1a" stroke="#1a1a1a" stroke-width="0.15">TP53</text>
<line x1="418.34" y1="325.70" x2="418.34" y2="327.50" stroke="#ccc" stroke-width="0.4"/>
<text transform="translate(423.14,330.3) rotate(-72)" font-size="6.75" font-weight="bold" text-anchor="end" fill="#1a1a1a" stroke="#1a1a1a" stroke-width="0.15">TRPM4</text>
<line x1="424.67" y1="325.70" x2="424.67" y2="327.50" stroke="#ccc" stroke-width="0.4"/>
<text transform="translate(429.47,330.3) rotate(-72)" font-size="6.75" font-weight="bold" text-anchor="end" fill="#1a1a1a" stroke="#1a1a1a" stroke-width="0.15">USP28</text>
<line x1="431.00" y1="325.70" x2="431.00" y2="327.50" stroke="#ccc" stroke-width="0.4"/>
<text transform="translate(435.80,330.3) rotate(-72)" font-size="6.75" font-weight="bold" text-anchor="end" fill="#1a1a1a" stroke="#1a1a1a" stroke-width="0.15">ZFHX3</text>
<line x1="437.33" y1="325.70" x2="437.33" y2="327.50" stroke="#ccc" stroke-width="0.4"/>
<text transform="translate(442.13,330.3) rotate(-72)" font-size="6.75" font-weight="bold" text-anchor="end" fill="#1a1a1a" stroke="#1a1a1a" stroke-width="0.15">ZMYM3</text>
<line x1="443.66" y1="325.70" x2="443.66" y2="327.50" stroke="#ccc" stroke-width="0.4"/>
<text transform="translate(448.46,330.3) rotate(-72)" font-size="6.75" font-weight="bold" text-anchor="end" fill="#1a1a1a" stroke="#1a1a1a" stroke-width="0.15">ZNF292</text>
<polygon points="70.20,173.10 73.30,178.90 67.10,178.90" fill="#939328" stroke="#6a6a18" stroke-width="0.5" stroke-linejoin="round"/>
<polygon points="70.20,190.40 73.30,196.20 67.10,196.20" fill="#939328" stroke="#6a6a18" stroke-width="0.5" stroke-linejoin="round"/>
<circle cx="51.4" cy="216.2" r="2.5" fill="#d95c66" stroke="#a8404a" stroke-width="0.5"/>
<polygon points="70.20,223.90 73.30,229.70 67.10,229.70" fill="#439e69" stroke="#2b7049" stroke-width="0.5" stroke-linejoin="round"/>
<polygon points="70.20,227.10 73.30,232.90 67.10,232.90" fill="#439e69" stroke="#2b7049" stroke-width="0.5" stroke-linejoin="round"/>
<polygon points="51.40,240.25 53.75,242.60 51.40,244.95 49.05,242.60" fill="#d95c66" stroke="#a8404a" stroke-width="0.5"/>
<polygon points="51.40,242.25 53.75,244.60 51.40,246.95 49.05,244.60" fill="#d95c66" stroke="#a8404a" stroke-width="0.5"/>
<circle cx="63.7" cy="241.8" r="2.5" fill="#439e69" stroke="#2b7049" stroke-width="0.5"/>
<polygon points="70.20,236.90 73.30,242.70 67.10,242.70" fill="#439e69" stroke="#2b7049" stroke-width="0.5" stroke-linejoin="round"/>
<circle cx="76.8" cy="242.5" r="2.5" fill="#d95c66" stroke="#a8404a" stroke-width="0.5"/>
<rect x="118.40" y="237.70" width="5.0" height="5.0" fill="#439e69" stroke="#2b7049" stroke-width="0.5"/>
<rect x="118.40" y="242.00" width="5.0" height="5.0" fill="#439e69" stroke="#2b7049" stroke-width="0.5"/>
<polygon points="51.40,254.15 53.75,256.50 51.40,258.85 49.05,256.50" fill="#d95c66" stroke="#a8404a" stroke-width="0.5"/>
<circle cx="63.7" cy="254.8" r="2.5" fill="#439e69" stroke="#2b7049" stroke-width="0.5"/>
<polygon points="70.20,249.40 73.30,255.20 67.10,255.20" fill="#439e69" stroke="#2b7049" stroke-width="0.5" stroke-linejoin="round"/>
<circle cx="76.5" cy="257.2" r="2.5" fill="#d95c66" stroke="#a8404a" stroke-width="0.5"/>
<polygon points="89.40,252.45 91.75,254.80 89.40,257.15 87.05,254.80" fill="#9463b9" stroke="#6c4190" stroke-width="0.5"/>
<circle cx="95.5" cy="254.5" r="2.5" fill="#d95c66" stroke="#a8404a" stroke-width="0.5"/>
<circle cx="120.6" cy="254.5" r="2.5" fill="#439e69" stroke="#2b7049" stroke-width="0.5"/>
<polygon points="51.40,267.05 53.75,269.40 51.40,271.75 49.05,269.40" fill="#d95c66" stroke="#a8404a" stroke-width="0.5"/>
<circle cx="63.7" cy="269.8" r="2.5" fill="#439e69" stroke="#2b7049" stroke-width="0.5"/>
<polygon points="70.20,263.90 73.30,269.70 67.10,269.70" fill="#439e69" stroke="#2b7049" stroke-width="0.5" stroke-linejoin="round"/>
<circle cx="76.8" cy="269.4" r="2.5" fill="#d95c66" stroke="#a8404a" stroke-width="0.5"/>
<rect x="118.40" y="266.90" width="5.0" height="5.0" fill="#439e69" stroke="#2b7049" stroke-width="0.5"/>
<circle cx="57.8" cy="279.5" r="2.5" fill="#439e69" stroke="#2b7049" stroke-width="0.5"/>
<polygon points="69.80,274.90 72.90,280.70 66.70,280.70" fill="#439e69" stroke="#2b7049" stroke-width="0.5" stroke-linejoin="round"/>
<rect x="74.00" y="275.90" width="5.0" height="5.0" fill="#d95c66" stroke="#a8404a" stroke-width="0.5"/>
<rect x="74.00" y="278.80" width="5.0" height="5.0" fill="#d95c66" stroke="#a8404a" stroke-width="0.5"/>
<circle cx="82.9" cy="278.0" r="2.5" fill="#d95c66" stroke="#a8404a" stroke-width="0.5"/>
<polygon points="89.40,280.65 91.75,283.00 89.40,285.35 87.05,283.00" fill="#9463b9" stroke="#6c4190" stroke-width="0.5"/>
<circle cx="101.7" cy="280.2" r="2.5" fill="#9463b9" stroke="#6c4190" stroke-width="0.5"/>
<circle cx="108.3" cy="281.0" r="2.5" fill="#d95c66" stroke="#a8404a" stroke-width="0.5"/>
<circle cx="114.5" cy="281.7" r="2.5" fill="#439e69" stroke="#2b7049" stroke-width="0.5"/>
<circle cx="57.8" cy="291.7" r="2.5" fill="#439e69" stroke="#2b7049" stroke-width="0.5"/>
<polygon points="70.20,289.90 73.30,295.70 67.10,295.70" fill="#439e69" stroke="#2b7049" stroke-width="0.5" stroke-linejoin="round"/>
<circle cx="76.5" cy="292.5" r="2.5" fill="#d95c66" stroke="#a8404a" stroke-width="0.5"/>
<circle cx="82.9" cy="292.6" r="2.5" fill="#d95c66" stroke="#a8404a" stroke-width="0.5"/>
<circle cx="89.4" cy="295.5" r="2.5" fill="#9463b9" stroke="#6c4190" stroke-width="0.5"/>
<circle cx="101.7" cy="290.9" r="2.5" fill="#9463b9" stroke="#6c4190" stroke-width="0.5"/>
<circle cx="108.3" cy="293.7" r="2.5" fill="#d95c66" stroke="#a8404a" stroke-width="0.5"/>
<circle cx="114.5" cy="293.7" r="2.5" fill="#439e69" stroke="#2b7049" stroke-width="0.5"/>
<polygon points="120.90,292.85 123.25,295.20 120.90,297.55 118.55,295.20" fill="#d95c66" stroke="#a8404a" stroke-width="0.5"/>
<circle cx="51.4" cy="303.2" r="2.5" fill="#439e69" stroke="#2b7049" stroke-width="0.5"/>
<circle cx="70.2" cy="304.9" r="2.5" fill="#939328" stroke="#6a6a18" stroke-width="0.5"/>
<polygon points="101.70,303.40 104.80,309.20 98.60,309.20" fill="#439e69" stroke="#2b7049" stroke-width="0.5" stroke-linejoin="round"/>
<circle cx="51.4" cy="317.5" r="2.5" fill="#d95c66" stroke="#a8404a" stroke-width="0.5"/>
<polygon points="70.20,312.30 73.30,318.10 67.10,318.10" fill="#439e69" stroke="#2b7049" stroke-width="0.5" stroke-linejoin="round"/>
<polygon points="70.20,316.30 73.30,322.10 67.10,322.10" fill="#439e69" stroke="#2b7049" stroke-width="0.5" stroke-linejoin="round"/>
<rect x="74.00" y="314.00" width="5.0" height="5.0" fill="#d95c66" stroke="#a8404a" stroke-width="0.5"/>
<rect x="74.00" y="317.50" width="5.0" height="5.0" fill="#d95c66" stroke="#a8404a" stroke-width="0.5"/>
<circle cx="95.5" cy="319.8" r="2.5" fill="#439e69" stroke="#2b7049" stroke-width="0.5"/>
<rect x="99.20" y="314.30" width="5.0" height="5.0" fill="#d95c66" stroke="#a8404a" stroke-width="0.5"/>
<circle cx="146.2" cy="228.0" r="2.5" fill="#439e69" stroke="#2b7049" stroke-width="0.5"/>
<polygon points="165.10,226.55 167.45,228.90 165.10,231.25 162.75,228.90" fill="#d95c66" stroke="#a8404a" stroke-width="0.5"/>
<circle cx="133.4" cy="241.5" r="2.5" fill="#d95c66" stroke="#a8404a" stroke-width="0.5"/>
<circle cx="139.7" cy="241.5" r="2.5" fill="#d95c66" stroke="#a8404a" stroke-width="0.5"/>
<polygon points="158.90,239.95 161.25,242.30 158.90,244.65 156.55,242.30" fill="#d95c66" stroke="#a8404a" stroke-width="0.5"/>
<polygon points="165.10,239.95 167.45,242.30 165.10,244.65 162.75,242.30" fill="#439e69" stroke="#2b7049" stroke-width="0.5"/>
<circle cx="184.2" cy="245.0" r="2.5" fill="#d95c66" stroke="#a8404a" stroke-width="0.5"/>
<circle cx="196.6" cy="242.8" r="2.5" fill="#d95c66" stroke="#a8404a" stroke-width="0.5"/>
<circle cx="133.5" cy="254.5" r="2.5" fill="#d95c66" stroke="#a8404a" stroke-width="0.5"/>
<circle cx="152.3" cy="254.8" r="2.5" fill="#d95c66" stroke="#a8404a" stroke-width="0.5"/>
<polygon points="165.10,251.05 167.45,253.40 165.10,255.75 162.75,253.40" fill="#439e69" stroke="#2b7049" stroke-width="0.5"/>
<circle cx="184.2" cy="253.7" r="2.5" fill="#d95c66" stroke="#a8404a" stroke-width="0.5"/>
<circle cx="190.5" cy="257.2" r="2.5" fill="#d95c66" stroke="#a8404a" stroke-width="0.5"/>
<circle cx="196.6" cy="254.5" r="2.5" fill="#d95c66" stroke="#a8404a" stroke-width="0.5"/>
<circle cx="133.5" cy="269.1" r="2.5" fill="#d95c66" stroke="#a8404a" stroke-width="0.5"/>
<circle cx="165.1" cy="267.2" r="2.5" fill="#439e69" stroke="#2b7049" stroke-width="0.5"/>
<circle cx="184.2" cy="267.5" r="2.5" fill="#d95c66" stroke="#a8404a" stroke-width="0.5"/>
<circle cx="196.6" cy="269.8" r="2.5" fill="#d95c66" stroke="#a8404a" stroke-width="0.5"/>
<rect x="124.40" y="276.10" width="5.0" height="5.0" fill="#d95c66" stroke="#a8404a" stroke-width="0.5"/>
<rect x="124.40" y="279.10" width="5.0" height="5.0" fill="#d95c66" stroke="#a8404a" stroke-width="0.5"/>
<circle cx="140.0" cy="280.2" r="2.5" fill="#d95c66" stroke="#a8404a" stroke-width="0.5"/>
<circle cx="158.9" cy="279.0" r="2.5" fill="#439e69" stroke="#2b7049" stroke-width="0.5"/>
<polygon points="165.10,280.15 167.45,282.50 165.10,284.85 162.75,282.50" fill="#d95c66" stroke="#a8404a" stroke-width="0.5"/>
<polygon points="165.10,275.95 167.45,278.30 165.10,280.65 162.75,278.30" fill="#4a8fd6" stroke="#2f6db0" stroke-width="0.5"/>
<circle cx="171.5" cy="278.3" r="2.5" fill="#d95c66" stroke="#a8404a" stroke-width="0.5"/>
<rect x="188.00" y="278.90" width="5.0" height="5.0" fill="#d95c66" stroke="#a8404a" stroke-width="0.5"/>
<circle cx="196.6" cy="281.0" r="2.5" fill="#d95c66" stroke="#a8404a" stroke-width="0.5"/>
<circle cx="127.2" cy="293.0" r="2.5" fill="#d95c66" stroke="#a8404a" stroke-width="0.5"/>
<circle cx="140.0" cy="292.5" r="2.5" fill="#d95c66" stroke="#a8404a" stroke-width="0.5"/>
<circle cx="158.9" cy="294.0" r="2.5" fill="#439e69" stroke="#2b7049" stroke-width="0.5"/>
<polygon points="165.10,292.65 167.45,295.00 165.10,297.35 162.75,295.00" fill="#d95c66" stroke="#a8404a" stroke-width="0.5"/>
<polygon points="165.10,288.65 167.45,291.00 165.10,293.35 162.75,291.00" fill="#4a8fd6" stroke="#2f6db0" stroke-width="0.5"/>
<circle cx="171.5" cy="292.5" r="2.5" fill="#d95c66" stroke="#a8404a" stroke-width="0.5"/>
<rect x="188.00" y="290.50" width="5.0" height="5.0" fill="#d95c66" stroke="#a8404a" stroke-width="0.5"/>
<circle cx="196.6" cy="294.2" r="2.5" fill="#d95c66" stroke="#a8404a" stroke-width="0.5"/>
<circle cx="146.2" cy="308.0" r="2.5" fill="#439e69" stroke="#2b7049" stroke-width="0.5"/>
<polygon points="177.70,302.30 180.80,308.10 174.60,308.10" fill="#439e69" stroke="#2b7049" stroke-width="0.5" stroke-linejoin="round"/>
<circle cx="133.5" cy="319.8" r="2.5" fill="#d95c66" stroke="#a8404a" stroke-width="0.5"/>
<circle cx="140.0" cy="317.0" r="2.5" fill="#d95c66" stroke="#a8404a" stroke-width="0.5"/>
<circle cx="222.2" cy="230.8" r="2.5" fill="#d95c66" stroke="#a8404a" stroke-width="0.5"/>
<circle cx="228.3" cy="231.5" r="2.5" fill="#439e69" stroke="#2b7049" stroke-width="0.5"/>
<polygon points="241.10,226.85 243.45,229.20 241.10,231.55 238.75,229.20" fill="#d95c66" stroke="#a8404a" stroke-width="0.5"/>
<rect x="225.80" y="238.80" width="5.0" height="5.0" fill="#d95c66" stroke="#a8404a" stroke-width="0.5"/>
<rect x="225.80" y="240.80" width="5.0" height="5.0" fill="#d95c66" stroke="#a8404a" stroke-width="0.5"/>
<rect x="238.60" y="239.30" width="5.0" height="5.0" fill="#d95c66" stroke="#a8404a" stroke-width="0.5"/>
<rect x="270.00" y="240.50" width="5.0" height="5.0" fill="#4a8fd6" stroke="#2f6db0" stroke-width="0.5"/>
<circle cx="215.7" cy="256.0" r="2.5" fill="#439e69" stroke="#2b7049" stroke-width="0.5"/>
<rect x="225.80" y="250.40" width="5.0" height="5.0" fill="#d95c66" stroke="#a8404a" stroke-width="0.5"/>
<rect x="225.80" y="252.60" width="5.0" height="5.0" fill="#d95c66" stroke="#a8404a" stroke-width="0.5"/>
<rect x="238.60" y="250.30" width="5.0" height="5.0" fill="#d95c66" stroke="#a8404a" stroke-width="0.5"/>
<rect x="238.60" y="252.50" width="5.0" height="5.0" fill="#d95c66" stroke="#a8404a" stroke-width="0.5"/>
<circle cx="253.7" cy="253.7" r="2.5" fill="#439e69" stroke="#2b7049" stroke-width="0.5"/>
<circle cx="266.0" cy="253.7" r="2.5" fill="#4a8fd6" stroke="#2f6db0" stroke-width="0.5"/>
<rect x="270.00" y="253.00" width="5.0" height="5.0" fill="#4a8fd6" stroke="#2f6db0" stroke-width="0.5"/>
<rect x="225.80" y="266.90" width="5.0" height="5.0" fill="#d95c66" stroke="#a8404a" stroke-width="0.5"/>
<polygon points="241.10,265.15 243.45,267.50 241.10,269.85 238.75,267.50" fill="#d95c66" stroke="#a8404a" stroke-width="0.5"/>
<rect x="270.00" y="263.20" width="5.0" height="5.0" fill="#4a8fd6" stroke="#2f6db0" stroke-width="0.5"/>
<rect x="200.70" y="278.50" width="5.0" height="5.0" fill="#439e69" stroke="#2b7049" stroke-width="0.5"/>
<rect x="207.00" y="280.00" width="5.0" height="5.0" fill="#439e69" stroke="#2b7049" stroke-width="0.5"/>
<rect x="225.80" y="279.00" width="5.0" height="5.0" fill="#439e69" stroke="#2b7049" stroke-width="0.5"/>
<rect x="225.80" y="275.80" width="5.0" height="5.0" fill="#d95c66" stroke="#a8404a" stroke-width="0.5"/>
<circle cx="234.5" cy="283.0" r="2.5" fill="#439e69" stroke="#2b7049" stroke-width="0.5"/>
<rect x="238.60" y="279.80" width="5.0" height="5.0" fill="#4a8fd6" stroke="#2f6db0" stroke-width="0.5"/>
<rect x="238.60" y="281.50" width="5.0" height="5.0" fill="#d95c66" stroke="#a8404a" stroke-width="0.5"/>
<rect x="245.00" y="275.10" width="5.0" height="5.0" fill="#439e69" stroke="#2b7049" stroke-width="0.5"/>
<rect x="245.00" y="277.10" width="5.0" height="5.0" fill="#439e69" stroke="#2b7049" stroke-width="0.5"/>
<rect x="200.70" y="288.90" width="5.0" height="5.0" fill="#439e69" stroke="#2b7049" stroke-width="0.5"/>
<rect x="207.00" y="292.00" width="5.0" height="5.0" fill="#439e69" stroke="#2b7049" stroke-width="0.5"/>
<rect x="225.80" y="290.10" width="5.0" height="5.0" fill="#d95c66" stroke="#a8404a" stroke-width="0.5"/>
<circle cx="234.5" cy="294.8" r="2.5" fill="#439e69" stroke="#2b7049" stroke-width="0.5"/>
<rect x="238.60" y="292.30" width="5.0" height="5.0" fill="#4a8fd6" stroke="#2f6db0" stroke-width="0.5"/>
<rect x="238.60" y="290.50" width="5.0" height="5.0" fill="#d95c66" stroke="#a8404a" stroke-width="0.5"/>
<rect x="245.00" y="288.90" width="5.0" height="5.0" fill="#439e69" stroke="#2b7049" stroke-width="0.5"/>
<rect x="245.00" y="291.10" width="5.0" height="5.0" fill="#439e69" stroke="#2b7049" stroke-width="0.5"/>
<circle cx="203.2" cy="305.0" r="2.5" fill="#d95c66" stroke="#a8404a" stroke-width="0.5"/>
<circle cx="241.1" cy="304.5" r="2.5" fill="#d95c66" stroke="#a8404a" stroke-width="0.5"/>
<rect x="225.80" y="314.30" width="5.0" height="5.0" fill="#d95c66" stroke="#a8404a" stroke-width="0.5"/>
<circle cx="234.5" cy="318.0" r="2.5" fill="#439e69" stroke="#2b7049" stroke-width="0.5"/>
<circle cx="259.8" cy="320.3" r="2.5" fill="#939328" stroke="#6a6a18" stroke-width="0.5"/>
<circle cx="272.5" cy="319.4" r="2.5" fill="#439e69" stroke="#2b7049" stroke-width="0.5"/>
<circle cx="316.9" cy="177.7" r="2.5" fill="#d95c66" stroke="#a8404a" stroke-width="0.5"/>
<polygon points="278.90,226.55 281.25,228.90 278.90,231.25 276.55,228.90" fill="#9463b9" stroke="#6c4190" stroke-width="0.5"/>
<circle cx="291.5" cy="230.5" r="2.5" fill="#d95c66" stroke="#a8404a" stroke-width="0.5"/>
<rect x="326.70" y="228.00" width="5.0" height="5.0" fill="#439e69" stroke="#2b7049" stroke-width="0.5"/>
<circle cx="335.8" cy="231.8" r="2.5" fill="#439e69" stroke="#2b7049" stroke-width="0.5"/>
<circle cx="278.9" cy="244.3" r="2.5" fill="#d95c66" stroke="#a8404a" stroke-width="0.5"/>
<circle cx="323.1" cy="245.0" r="2.5" fill="#4a8fd6" stroke="#2f6db0" stroke-width="0.5"/>
<polygon points="329.70,238.60 332.80,244.40 326.60,244.40" fill="#d95c66" stroke="#a8404a" stroke-width="0.5" stroke-linejoin="round"/>
<circle cx="298.0" cy="252.9" r="2.5" fill="#d95c66" stroke="#a8404a" stroke-width="0.5"/>
<circle cx="323.1" cy="254.5" r="2.5" fill="#4a8fd6" stroke="#2f6db0" stroke-width="0.5"/>
<polygon points="329.70,251.10 332.80,256.90 326.60,256.90" fill="#d95c66" stroke="#a8404a" stroke-width="0.5" stroke-linejoin="round"/>
<circle cx="323.1" cy="267.5" r="2.5" fill="#4a8fd6" stroke="#2f6db0" stroke-width="0.5"/>
<polygon points="329.70,262.10 332.80,267.90 326.60,267.90" fill="#d95c66" stroke="#a8404a" stroke-width="0.5" stroke-linejoin="round"/>
<polygon points="278.90,276.25 281.25,278.60 278.90,280.95 276.55,278.60" fill="#d95c66" stroke="#a8404a" stroke-width="0.5"/>
<circle cx="285.4" cy="281.7" r="2.5" fill="#439e69" stroke="#2b7049" stroke-width="0.5"/>
<rect x="333.30" y="279.70" width="5.0" height="5.0" fill="#439e69" stroke="#2b7049" stroke-width="0.5"/>
<path d="M344.90,280.10L352.10,280.10M345.95,277.55L351.05,282.65M348.50,276.50L348.50,283.70M351.05,277.55L345.95,282.65" stroke="#d95c66" stroke-width="0.8" fill="none"/>
<circle cx="285.4" cy="291.0" r="2.5" fill="#439e69" stroke="#2b7049" stroke-width="0.5"/>
<polygon points="278.90,292.45 281.25,294.80 278.90,297.15 276.55,294.80" fill="#d95c66" stroke="#a8404a" stroke-width="0.5"/>
<circle cx="304.2" cy="294.2" r="2.5" fill="#4a8fd6" stroke="#2f6db0" stroke-width="0.5"/>
<rect x="333.30" y="289.70" width="5.0" height="5.0" fill="#439e69" stroke="#2b7049" stroke-width="0.5"/>
<circle cx="348.5" cy="293.9" r="2.5" fill="#d95c66" stroke="#a8404a" stroke-width="0.5"/>
<circle cx="335.8" cy="306.5" r="2.5" fill="#439e69" stroke="#2b7049" stroke-width="0.5"/>
<polygon points="342.00,300.60 345.10,306.40 338.90,306.40" fill="#4a8fd6" stroke="#2f6db0" stroke-width="0.5" stroke-linejoin="round"/>
<circle cx="272.8" cy="319.4" r="2.5" fill="#439e69" stroke="#2b7049" stroke-width="0.5"/>
<circle cx="291.5" cy="317.5" r="2.5" fill="#439e69" stroke="#2b7049" stroke-width="0.5"/>
<circle cx="310.5" cy="317.0" r="2.5" fill="#439e69" stroke="#2b7049" stroke-width="0.5"/>
<polygon points="411.70,176.00 414.80,181.80 408.60,181.80" fill="#439e69" stroke="#2b7049" stroke-width="0.5" stroke-linejoin="round"/>
<polygon points="411.70,186.00 414.80,191.80 408.60,191.80" fill="#439e69" stroke="#2b7049" stroke-width="0.5" stroke-linejoin="round"/>
<circle cx="405.2" cy="204.6" r="2.5" fill="#439e69" stroke="#2b7049" stroke-width="0.5"/>
<polygon points="411.70,212.90 414.80,218.70 408.60,218.70" fill="#439e69" stroke="#2b7049" stroke-width="0.5" stroke-linejoin="round"/>
<polygon points="411.70,214.70 414.80,220.50 408.60,220.50" fill="#d95c66" stroke="#a8404a" stroke-width="0.5" stroke-linejoin="round"/>
<polygon points="380.20,225.60 383.30,231.40 377.10,231.40" fill="#d95c66" stroke="#a8404a" stroke-width="0.5" stroke-linejoin="round"/>
<circle cx="423.8" cy="228.6" r="2.5" fill="#439e69" stroke="#2b7049" stroke-width="0.5"/>
<polygon points="367.40,242.25 369.75,244.60 367.40,246.95 365.05,244.60" fill="#d95c66" stroke="#a8404a" stroke-width="0.5"/>
<circle cx="379.8" cy="240.8" r="2.5" fill="#d95c66" stroke="#a8404a" stroke-width="0.5"/>
<circle cx="386.3" cy="240.8" r="2.5" fill="#d95c66" stroke="#a8404a" stroke-width="0.5"/>
<circle cx="392.9" cy="243.8" r="2.5" fill="#439e69" stroke="#2b7049" stroke-width="0.5"/>
<polygon points="418.10,242.05 420.45,244.40 418.10,246.75 415.75,244.40" fill="#d95c66" stroke="#a8404a" stroke-width="0.5"/>
<polygon points="437.00,240.40 440.10,246.20 433.90,246.20" fill="#439e69" stroke="#2b7049" stroke-width="0.5" stroke-linejoin="round"/>
<polygon points="437.00,242.10 440.10,247.90 433.90,247.90" fill="#d95c66" stroke="#a8404a" stroke-width="0.5" stroke-linejoin="round"/>
<polygon points="367.40,252.55 369.75,254.90 367.40,257.25 365.05,254.90" fill="#d95c66" stroke="#a8404a" stroke-width="0.5"/>
<polygon points="392.90,251.05 395.25,253.40 392.90,255.75 390.55,253.40" fill="#d95c66" stroke="#a8404a" stroke-width="0.5"/>
<polygon points="392.90,254.65 395.25,257.00 392.90,259.35 390.55,257.00" fill="#439e69" stroke="#2b7049" stroke-width="0.5"/>
<polygon points="437.00,251.80 440.10,257.60 433.90,257.60" fill="#d95c66" stroke="#a8404a" stroke-width="0.5" stroke-linejoin="round"/>
<polygon points="443.60,250.30 446.70,256.10 440.50,256.10" fill="#439e69" stroke="#2b7049" stroke-width="0.5" stroke-linejoin="round"/>
<polygon points="367.40,265.45 369.75,267.80 367.40,270.15 365.05,267.80" fill="#d95c66" stroke="#a8404a" stroke-width="0.5"/>
<circle cx="392.9" cy="266.8" r="2.5" fill="#439e69" stroke="#2b7049" stroke-width="0.5"/>
<polygon points="437.00,265.10 440.10,270.90 433.90,270.90" fill="#d95c66" stroke="#a8404a" stroke-width="0.5" stroke-linejoin="round"/>
<rect x="352.10" y="276.60" width="5.0" height="5.0" fill="#439e69" stroke="#2b7049" stroke-width="0.5"/>
<circle cx="361.2" cy="278.9" r="2.5" fill="#439e69" stroke="#2b7049" stroke-width="0.5"/>
<polygon points="373.80,276.40 376.90,282.20 370.70,282.20" fill="#d95c66" stroke="#a8404a" stroke-width="0.5" stroke-linejoin="round"/>
<polygon points="373.80,278.70 376.90,284.50 370.70,284.50" fill="#4a8fd6" stroke="#2f6db0" stroke-width="0.5" stroke-linejoin="round"/>
<rect x="409.20" y="278.90" width="5.0" height="5.0" fill="#d95c66" stroke="#a8404a" stroke-width="0.5"/>
<rect x="409.20" y="276.60" width="5.0" height="5.0" fill="#439e69" stroke="#2b7049" stroke-width="0.5"/>
<rect x="428.50" y="276.10" width="5.0" height="5.0" fill="#d95c66" stroke="#a8404a" stroke-width="0.5"/>
<rect x="428.50" y="279.70" width="5.0" height="5.0" fill="#439e69" stroke="#2b7049" stroke-width="0.5"/>
<polygon points="437.40,276.60 440.50,282.40 434.30,282.40" fill="#d95c66" stroke="#a8404a" stroke-width="0.5" stroke-linejoin="round"/>
<circle cx="348.5" cy="293.9" r="2.5" fill="#d95c66" stroke="#a8404a" stroke-width="0.5"/>
<rect x="352.10" y="292.40" width="5.0" height="5.0" fill="#439e69" stroke="#2b7049" stroke-width="0.5"/>
<circle cx="361.2" cy="291.2" r="2.5" fill="#439e69" stroke="#2b7049" stroke-width="0.5"/>
<circle cx="367.3" cy="293.5" r="2.5" fill="#d95c66" stroke="#a8404a" stroke-width="0.5"/>
<polygon points="373.80,287.40 376.90,293.20 370.70,293.20" fill="#4a8fd6" stroke="#2f6db0" stroke-width="0.5" stroke-linejoin="round"/>
<rect x="409.20" y="289.20" width="5.0" height="5.0" fill="#439e69" stroke="#2b7049" stroke-width="0.5"/>
<rect x="428.50" y="292.20" width="5.0" height="5.0" fill="#d95c66" stroke="#a8404a" stroke-width="0.5"/>
<rect x="428.50" y="289.40" width="5.0" height="5.0" fill="#439e69" stroke="#2b7049" stroke-width="0.5"/>
<polygon points="437.40,288.30 440.50,294.10 434.30,294.10" fill="#d95c66" stroke="#a8404a" stroke-width="0.5" stroke-linejoin="round"/>
<polygon points="411.70,301.50 414.80,307.30 408.60,307.30" fill="#439e69" stroke="#2b7049" stroke-width="0.5" stroke-linejoin="round"/>
<circle cx="424.4" cy="305.6" r="2.5" fill="#439e69" stroke="#2b7049" stroke-width="0.5"/>
<rect x="428.30" y="303.50" width="5.0" height="5.0" fill="#439e69" stroke="#2b7049" stroke-width="0.5"/>
<polygon points="386.30,317.05 388.65,319.40 386.30,321.75 383.95,319.40" fill="#d95c66" stroke="#a8404a" stroke-width="0.5"/>
<circle cx="399.0" cy="319.4" r="2.5" fill="#439e69" stroke="#2b7049" stroke-width="0.5"/>
<rect x="409.20" y="313.00" width="5.0" height="5.0" fill="#d95c66" stroke="#a8404a" stroke-width="0.5"/>
<rect x="409.20" y="316.50" width="5.0" height="5.0" fill="#d95c66" stroke="#a8404a" stroke-width="0.5"/>
<circle cx="430.8" cy="319.2" r="2.5" fill="#d95c66" stroke="#a8404a" stroke-width="0.5"/>
<text x="455" y="198.3" font-size="6.1" font-weight="bold" text-anchor="start" fill="#1a1a1a" textLength="61.9" lengthAdjust="spacingAndGlyphs" stroke="#1a1a1a" stroke-width="0.15" >Variant_Classification</text>
<circle cx="459" cy="205.80" r="2.8" fill="#d95c66" stroke="#a8404a" stroke-width="0.5" opacity="0.85"/>
<text x="465.8" y="208.0" font-size="6.1" text-anchor="start" fill="#1a1a1a" stroke="#1a1a1a" stroke-width="0.12" >Frameshift_Indel</text>
<circle cx="459" cy="214.15" r="2.8" fill="#939328" stroke="#6a6a18" stroke-width="0.5" opacity="0.85"/>
<text x="465.8" y="216.35" font-size="6.1" text-anchor="start" fill="#1a1a1a" stroke="#1a1a1a" stroke-width="0.12" >Inframe_Indel</text>
<circle cx="459" cy="222.50" r="2.8" fill="#439e69" stroke="#2b7049" stroke-width="0.5" opacity="0.85"/>
<text x="465.8" y="224.7" font-size="6.1" text-anchor="start" fill="#1a1a1a" stroke="#1a1a1a" stroke-width="0.12" >Missense_Mutation</text>
<circle cx="459" cy="230.85" r="2.8" fill="#4a8fd6" stroke="#2f6db0" stroke-width="0.5" opacity="0.85"/>
<text x="465.8" y="233.05" font-size="6.1" text-anchor="start" fill="#1a1a1a" stroke="#1a1a1a" stroke-width="0.12" >Nonsense_Mutation</text>
<circle cx="459" cy="239.20" r="2.8" fill="#9463b9" stroke="#6c4190" stroke-width="0.5" opacity="0.85"/>
<text x="465.8" y="241.4" font-size="6.1" text-anchor="start" fill="#1a1a1a" stroke="#1a1a1a" stroke-width="0.12" >Splice_Site</text>
<text x="455" y="259.2" font-size="6.1" font-weight="bold" text-anchor="start" fill="#1a1a1a" stroke="#1a1a1a" stroke-width="0.15" >Gene-level haplotype</text>
<rect x="456.4" y="263.60" width="5.2" height="5.2" fill="#111"/>
<text x="465.8" y="268.4" font-size="6.1" text-anchor="start" fill="#1a1a1a" stroke="#1a1a1a" stroke-width="0.12" >Biallelic_het</text>
<polygon points="459,271.60 462.5,277.60 455.5,277.60" fill="#111"/>
<text x="465.8" y="276.79999999999995" font-size="6.1" text-anchor="start" fill="#1a1a1a" stroke="#1a1a1a" stroke-width="0.12" >Hemi/homoygous</text>
<circle cx="459" cy="283.00" r="2.8" fill="#111"/>
<text x="465.8" y="285.2" font-size="6.1" text-anchor="start" fill="#1a1a1a" stroke="#1a1a1a" stroke-width="0.12" >Monoallelic</text>
<polygon points="459,288.40 462,291.40 459,294.40 456,291.40" fill="#111"/>
<text x="465.8" y="293.59999999999997" font-size="6.1" text-anchor="start" fill="#1a1a1a" stroke="#1a1a1a" stroke-width="0.12" >Multi_monoallelic</text>
<path d="M455.60,299.80L462.40,299.80M456.60,297.40L461.40,302.20M459.00,296.40L459.00,303.20M461.40,297.40L456.60,302.20" stroke="#111" stroke-width="0.7" fill="none"/>
<text x="465.8" y="302.0" font-size="6.1" text-anchor="start" fill="#1a1a1a" stroke="#1a1a1a" stroke-width="0.12" >Noinfo</text>
<text x="7.4" y="379.2" font-size="11.5" font-weight="bold" text-anchor="start" fill="#111" >D</text>
<text x="2.9" y="398.3" font-size="7.8" font-weight="bold" textLength="92.9" lengthAdjust="spacingAndGlyphs"><tspan fill="#262659">LNCAP/C42b/Abl/</tspan><tspan fill="#2a5e2c">CWR22Rv1</tspan></text>
<text x="166.8" y="392" font-size="7" font-weight="bold" text-anchor="start" fill="#111" textLength="17.3" lengthAdjust="spacingAndGlyphs" stroke="#111" stroke-width="0.15" >JAK1</text>
<text x="9" y="472.2" font-size="7.8" font-weight="bold" text-anchor="start" fill="#862060" textLength="57" lengthAdjust="spacingAndGlyphs" >LAPC4/LAPC4-CR</text>
<line x1="114.20" y1="399.00" x2="114.20" y2="412.00" stroke="#555" stroke-width="0.7"/>
<circle cx="114.2" cy="396.8" r="2.5" fill="#6e8cc8" stroke="#48639e" stroke-width="0.6"/>
<text x="116.5" y="403.6" font-size="6.6" text-anchor="start" fill="#262626" textLength="32.7" lengthAdjust="spacingAndGlyphs" stroke="#262626" stroke-width="0.12" >K142Rfs*26</text>
<text x="92.4" y="420.0" font-size="6.2" font-weight="bold" text-anchor="end" fill="#222" stroke="#222" stroke-width="0.15" >Hap1</text>
<rect x="94.80" y="413.80" width="159.80" height="7.20" fill="#c0c0c0" />
<rect x="99.77" y="412.60" width="34.21" height="9.60" fill="#3a5fb8" rx="0.6" />
<text x="116.88" y="419.00" font-size="6.0" font-weight="bold" text-anchor="middle" fill="#111330" stroke="#111330" stroke-width="0.25">B41</text>
<rect x="153.51" y="412.60" width="14.54" height="9.60" fill="#84c07a" rx="0.6" />
<text x="160.78" y="419.50" font-size="5.9" text-anchor="middle" fill="#1d4a1d" stroke="#1d4a1d" stroke-width="0.12">SH2</text>
<rect x="175.81" y="412.60" width="36.15" height="9.60" fill="#f3ee98" rx="0.6" />
<text x="193.88" y="419.50" font-size="5.9" text-anchor="middle" fill="#1a1a1a" stroke="#1a1a1a" stroke-width="0.12">PTK_rpt1</text>
<rect x="215.56" y="412.60" width="39.06" height="9.60" fill="#b9b0d8" rx="0.6" />
<text x="235.09" y="419.50" font-size="5.9" text-anchor="middle" fill="#1a1a1a" stroke="#1a1a1a" stroke-width="0.12">Pkinase_Tyr</text>
<line x1="94.40" y1="425.40" x2="255.00" y2="425.40" stroke="#444" stroke-width="0.6"/>
<line x1="95.20" y1="425.10" x2="95.20" y2="427.40" stroke="#444" stroke-width="0.5"/>
<text x="95.20" y="433.80" font-size="5.0" font-weight="bold" text-anchor="middle" fill="#444">0</text>
<line x1="122.90" y1="425.10" x2="122.90" y2="427.40" stroke="#444" stroke-width="0.5"/>
<text x="122.90" y="433.80" font-size="5.0" font-weight="bold" text-anchor="middle" fill="#444">200</text>
<line x1="150.60" y1="425.10" x2="150.60" y2="427.40" stroke="#444" stroke-width="0.5"/>
<text x="150.60" y="433.80" font-size="5.0" font-weight="bold" text-anchor="middle" fill="#444">400</text>
<line x1="178.30" y1="425.10" x2="178.30" y2="427.40" stroke="#444" stroke-width="0.5"/>
<text x="178.30" y="433.80" font-size="5.0" font-weight="bold" text-anchor="middle" fill="#444">600</text>
<line x1="206.00" y1="425.10" x2="206.00" y2="427.40" stroke="#444" stroke-width="0.5"/>
<text x="206.00" y="433.80" font-size="5.0" font-weight="bold" text-anchor="middle" fill="#444">800</text>
<line x1="233.70" y1="425.10" x2="233.70" y2="427.40" stroke="#444" stroke-width="0.5"/>
<text x="233.70" y="433.80" font-size="5.0" font-weight="bold" text-anchor="middle" fill="#444">1,000</text>
<line x1="255.03" y1="425.10" x2="255.03" y2="427.40" stroke="#444" stroke-width="0.5"/>
<text x="255.03" y="433.80" font-size="5.0" font-weight="bold" text-anchor="middle" fill="#444">1,154</text>
<line x1="109.05" y1="425.40" x2="109.05" y2="426.60" stroke="#444" stroke-width="0.4"/>
<line x1="136.75" y1="425.40" x2="136.75" y2="426.60" stroke="#444" stroke-width="0.4"/>
<line x1="164.45" y1="425.40" x2="164.45" y2="426.60" stroke="#444" stroke-width="0.4"/>
<line x1="192.15" y1="425.40" x2="192.15" y2="426.60" stroke="#444" stroke-width="0.4"/>
<line x1="219.85" y1="425.40" x2="219.85" y2="426.60" stroke="#444" stroke-width="0.4"/>
<line x1="247.55" y1="425.40" x2="247.55" y2="426.60" stroke="#444" stroke-width="0.4"/>
<text x="92.4" y="442.59999999999997" font-size="6.2" font-weight="bold" text-anchor="end" fill="#222" stroke="#222" stroke-width="0.15" >Hap2</text>
<rect x="94.80" y="437.80" width="159.80" height="7.20" fill="#c0c0c0" />
<rect x="99.77" y="436.60" width="34.21" height="9.60" fill="#3a5fb8" rx="0.6" />
<text x="116.88" y="443.00" font-size="6.0" font-weight="bold" text-anchor="middle" fill="#111330" stroke="#111330" stroke-width="0.25">B41</text>
<rect x="153.51" y="436.60" width="14.54" height="9.60" fill="#84c07a" rx="0.6" />
<text x="160.78" y="443.50" font-size="5.9" text-anchor="middle" fill="#1d4a1d" stroke="#1d4a1d" stroke-width="0.12">SH2</text>
<rect x="175.81" y="436.60" width="36.15" height="9.60" fill="#f3ee98" rx="0.6" />
<text x="193.88" y="443.50" font-size="5.9" text-anchor="middle" fill="#1a1a1a" stroke="#1a1a1a" stroke-width="0.12">PTK_rpt1</text>
<rect x="215.56" y="436.60" width="39.06" height="9.60" fill="#b9b0d8" rx="0.6" />
<text x="235.09" y="443.50" font-size="5.9" text-anchor="middle" fill="#1a1a1a" stroke="#1a1a1a" stroke-width="0.12">Pkinase_Tyr</text>
<line x1="154.30" y1="446.00" x2="154.30" y2="460.00" stroke="#555" stroke-width="0.7"/>
<circle cx="154.3" cy="462.5" r="2.5" fill="#6e8cc8" stroke="#48639e" stroke-width="0.6"/>
<text x="159.8" y="458.8" font-size="6.6" text-anchor="start" fill="#262626" textLength="33.3" lengthAdjust="spacingAndGlyphs" stroke="#262626" stroke-width="0.12" >L431Vfs*22</text>
<line x1="154.30" y1="474.50" x2="154.30" y2="487.50" stroke="#555" stroke-width="0.7"/>
<circle cx="154.3" cy="472" r="2.5" fill="#6e8cc8" stroke="#48639e" stroke-width="0.6"/>
<text x="165.6" y="481.6" font-size="6.6" text-anchor="start" fill="#262626" textLength="29.1" lengthAdjust="spacingAndGlyphs" stroke="#262626" stroke-width="0.12" >P430Rfs*2</text>
<text x="92.4" y="494.4" font-size="6.2" font-weight="bold" text-anchor="end" fill="#222" stroke="#222" stroke-width="0.15" >Hap1</text>
<rect x="94.80" y="488.30" width="159.80" height="7.20" fill="#c0c0c0" />
<rect x="99.77" y="487.10" width="34.21" height="9.60" fill="#3a5fb8" rx="0.6" />
<text x="116.88" y="493.50" font-size="6.0" font-weight="bold" text-anchor="middle" fill="#111330" stroke="#111330" stroke-width="0.25">B41</text>
<rect x="153.51" y="487.10" width="14.54" height="9.60" fill="#84c07a" rx="0.6" />
<text x="160.78" y="494.00" font-size="5.9" text-anchor="middle" fill="#1d4a1d" stroke="#1d4a1d" stroke-width="0.12">SH2</text>
<rect x="175.81" y="487.10" width="36.15" height="9.60" fill="#f3ee98" rx="0.6" />
<text x="193.88" y="494.00" font-size="5.9" text-anchor="middle" fill="#1a1a1a" stroke="#1a1a1a" stroke-width="0.12">PTK_rpt1</text>
<rect x="215.56" y="487.10" width="39.06" height="9.60" fill="#b9b0d8" rx="0.6" />
<text x="235.09" y="494.00" font-size="5.9" text-anchor="middle" fill="#1a1a1a" stroke="#1a1a1a" stroke-width="0.12">Pkinase_Tyr</text>
<line x1="94.40" y1="500.40" x2="255.00" y2="500.40" stroke="#444" stroke-width="0.6"/>
<line x1="95.20" y1="500.10" x2="95.20" y2="502.40" stroke="#444" stroke-width="0.5"/>
<text x="95.20" y="508.80" font-size="5.0" font-weight="bold" text-anchor="middle" fill="#444">0</text>
<line x1="122.90" y1="500.10" x2="122.90" y2="502.40" stroke="#444" stroke-width="0.5"/>
<text x="122.90" y="508.80" font-size="5.0" font-weight="bold" text-anchor="middle" fill="#444">200</text>
<line x1="150.60" y1="500.10" x2="150.60" y2="502.40" stroke="#444" stroke-width="0.5"/>
<text x="150.60" y="508.80" font-size="5.0" font-weight="bold" text-anchor="middle" fill="#444">400</text>
<line x1="178.30" y1="500.10" x2="178.30" y2="502.40" stroke="#444" stroke-width="0.5"/>
<text x="178.30" y="508.80" font-size="5.0" font-weight="bold" text-anchor="middle" fill="#444">600</text>
<line x1="206.00" y1="500.10" x2="206.00" y2="502.40" stroke="#444" stroke-width="0.5"/>
<text x="206.00" y="508.80" font-size="5.0" font-weight="bold" text-anchor="middle" fill="#444">800</text>
<line x1="233.70" y1="500.10" x2="233.70" y2="502.40" stroke="#444" stroke-width="0.5"/>
<text x="233.70" y="508.80" font-size="5.0" font-weight="bold" text-anchor="middle" fill="#444">1,000</text>
<line x1="255.03" y1="500.10" x2="255.03" y2="502.40" stroke="#444" stroke-width="0.5"/>
<text x="255.03" y="508.80" font-size="5.0" font-weight="bold" text-anchor="middle" fill="#444">1,154</text>
<line x1="109.05" y1="500.40" x2="109.05" y2="501.60" stroke="#444" stroke-width="0.4"/>
<line x1="136.75" y1="500.40" x2="136.75" y2="501.60" stroke="#444" stroke-width="0.4"/>
<line x1="164.45" y1="500.40" x2="164.45" y2="501.60" stroke="#444" stroke-width="0.4"/>
<line x1="192.15" y1="500.40" x2="192.15" y2="501.60" stroke="#444" stroke-width="0.4"/>
<line x1="219.85" y1="500.40" x2="219.85" y2="501.60" stroke="#444" stroke-width="0.4"/>
<line x1="247.55" y1="500.40" x2="247.55" y2="501.60" stroke="#444" stroke-width="0.4"/>
<text x="92.4" y="515.9" font-size="6.2" font-weight="bold" text-anchor="end" fill="#222" stroke="#222" stroke-width="0.15" >Hap2</text>
<rect x="94.80" y="512.00" width="159.80" height="7.20" fill="#c0c0c0" />
<rect x="99.77" y="510.80" width="34.21" height="9.60" fill="#3a5fb8" rx="0.6" />
<text x="116.88" y="517.20" font-size="6.0" font-weight="bold" text-anchor="middle" fill="#111330" stroke="#111330" stroke-width="0.25">B41</text>
<rect x="153.51" y="510.80" width="14.54" height="9.60" fill="#84c07a" rx="0.6" />
<text x="160.78" y="517.70" font-size="5.9" text-anchor="middle" fill="#1d4a1d" stroke="#1d4a1d" stroke-width="0.12">SH2</text>
<rect x="175.81" y="510.80" width="36.15" height="9.60" fill="#f3ee98" rx="0.6" />
<text x="193.88" y="517.70" font-size="5.9" text-anchor="middle" fill="#1a1a1a" stroke="#1a1a1a" stroke-width="0.12">PTK_rpt1</text>
<rect x="215.56" y="510.80" width="39.06" height="9.60" fill="#b9b0d8" rx="0.6" />
<text x="235.09" y="517.70" font-size="5.9" text-anchor="middle" fill="#1a1a1a" stroke="#1a1a1a" stroke-width="0.12">Pkinase_Tyr</text>
<line x1="237.30" y1="520.00" x2="237.30" y2="535.20" stroke="#555" stroke-width="0.7"/>
<circle cx="237.3" cy="537.9" r="2.5" fill="#6e8cc8" stroke="#48639e" stroke-width="0.6"/>
<line x1="248.30" y1="520.00" x2="248.30" y2="535.20" stroke="#555" stroke-width="0.7"/>
<circle cx="248.3" cy="537.9" r="2.5" fill="#7fb476" stroke="#4d8a4a" stroke-width="0.6"/>
<text x="211.3" y="540.2" font-size="6.6" text-anchor="start" fill="#262626" textLength="19" lengthAdjust="spacingAndGlyphs" stroke="#262626" stroke-width="0.12" >L1024*</text>
<text x="253.1" y="540.2" font-size="6.6" text-anchor="start" fill="#262626" textLength="20" lengthAdjust="spacingAndGlyphs" stroke="#262626" stroke-width="0.12" >L1108V</text>
<text x="309.2" y="398.8" font-size="7.8" font-weight="bold" text-anchor="start" fill="#862060" textLength="56.2" lengthAdjust="spacingAndGlyphs" >LAPC4/LAPC4-CR</text>
<text x="385" y="406.6" font-size="7" font-weight="bold" text-anchor="start" fill="#111" textLength="22.4" lengthAdjust="spacingAndGlyphs" stroke="#111" stroke-width="0.15" >CDK12</text>
<circle cx="433.6" cy="430.6" r="1.9" fill="#7690c6" stroke="#5a74a8" stroke-width="0.4"/>
<circle cx="433.6" cy="439.6" r="1.9" fill="#8cbf7c" stroke="#6a9a5c" stroke-width="0.4"/>
<text x="439.2" y="433.6" font-size="7" font-weight="bold" text-anchor="start" fill="#1a1a1a" textLength="35.4" lengthAdjust="spacingAndGlyphs" stroke="#1a1a1a" stroke-width="0.2" >Frameshift</text>
<text x="439.2" y="442.5" font-size="7" font-weight="bold" text-anchor="start" fill="#1a1a1a" textLength="30.8" lengthAdjust="spacingAndGlyphs" stroke="#1a1a1a" stroke-width="0.2" >Missense</text>
<text x="357.3" y="444.6" font-size="6.2" font-weight="bold" text-anchor="start" fill="#8c1c5c" textLength="42.7" lengthAdjust="spacingAndGlyphs" >LAPC4-CR (only)</text>
<text x="357.3" y="454.1" font-size="6.6" text-anchor="start" fill="#262626" textLength="32.3" lengthAdjust="spacingAndGlyphs" stroke="#262626" stroke-width="0.12" >E405Kfs*31</text>
<line x1="352.30" y1="449.50" x2="352.30" y2="464.90" stroke="#555" stroke-width="0.7"/>
<circle cx="352.3" cy="447.3" r="2.5" fill="#6e8cc8" stroke="#48639e" stroke-width="0.6"/>
<rect x="325.20" y="464.90" width="135.70" height="9.90" fill="#9a9a9a" />
<rect x="383.80" y="464.90" width="32.70" height="9.90" fill="#bcb3e2" />
<text x="401.2" y="471.75" font-size="5.7" font-weight="bold" text-anchor="middle" fill="#151515" stroke="#151515" stroke-width="0.2" textLength="37" lengthAdjust="spacingAndGlyphs">Protein kinase</text>
<line x1="325.20" y1="477.60" x2="460.90" y2="477.60" stroke="#555" stroke-width="0.6"/>
<line x1="357.20" y1="476.50" x2="357.20" y2="478.50" stroke="#555" stroke-width="0.5"/>
<text x="357.2" y="484.6" font-size="5.2" font-weight="bold" text-anchor="middle" fill="#333">500</text>
<line x1="412.50" y1="476.50" x2="412.50" y2="478.50" stroke="#555" stroke-width="0.5"/>
<text x="412.5" y="484.6" font-size="5.2" font-weight="bold" text-anchor="middle" fill="#333">1,000</text>
<line x1="460.90" y1="476.50" x2="460.90" y2="478.50" stroke="#555" stroke-width="0.5"/>
<text x="460.9" y="484.6" font-size="5.2" font-weight="bold" text-anchor="middle" fill="#333">1,490</text>
<rect x="325.20" y="487.20" width="135.70" height="9.60" fill="#9a9a9a" />
<rect x="383.80" y="487.20" width="32.70" height="9.60" fill="#bcb3e2" />
<text x="401.2" y="493.90" font-size="5.7" font-weight="bold" text-anchor="middle" fill="#151515" stroke="#151515" stroke-width="0.2" textLength="37" lengthAdjust="spacingAndGlyphs">Protein kinase</text>
<line x1="456.90" y1="496.80" x2="456.90" y2="508.50" stroke="#555" stroke-width="0.7"/>
<circle cx="456.9" cy="511.2" r="2.5" fill="#6e8cc8" stroke="#48639e" stroke-width="0.6"/>
<text x="429.5" y="523.2" font-size="6.6" text-anchor="start" fill="#262626" textLength="38" lengthAdjust="spacingAndGlyphs" stroke="#262626" stroke-width="0.12" >G1461Afs*38</text>
</svg></body></html>
